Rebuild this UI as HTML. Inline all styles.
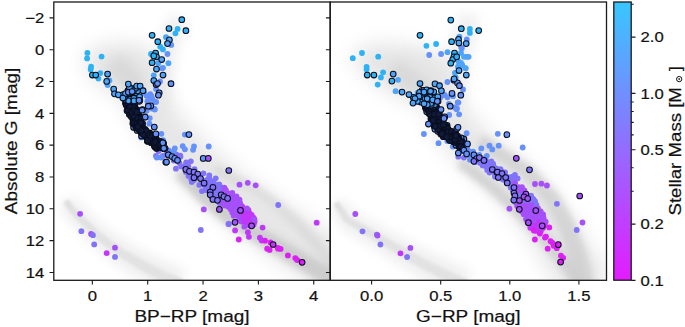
<!DOCTYPE html>
<html><head><meta charset="utf-8"><style>
html,body{margin:0;padding:0;background:#fff;width:685px;height:327px;overflow:hidden}
svg{display:block;font-family:"Liberation Sans",sans-serif}
</style></head><body>
<svg width="685" height="327" viewBox="0 0 685 327">
<defs><linearGradient id="cb" x1="0" y1="0" x2="0" y2="1"><stop offset="0.00" stop-color="rgb(56,199,255)"/><stop offset="0.10" stop-color="rgb(73,182,255)"/><stop offset="0.20" stop-color="rgb(90,165,255)"/><stop offset="0.30" stop-color="rgb(107,148,255)"/><stop offset="0.40" stop-color="rgb(124,131,255)"/><stop offset="0.50" stop-color="rgb(142,113,255)"/><stop offset="0.60" stop-color="rgb(159,96,255)"/><stop offset="0.70" stop-color="rgb(176,79,255)"/><stop offset="0.80" stop-color="rgb(193,62,255)"/><stop offset="0.90" stop-color="rgb(210,45,255)"/><stop offset="1.00" stop-color="rgb(227,28,255)"/></linearGradient></defs>
<clipPath id="cl"><rect x="53.8" y="2.0" width="276.4" height="278.3"/></clipPath><clipPath id="cr"><rect x="330.2" y="2.0" width="276.3" height="278.3"/></clipPath><filter id="bl3" x="-20%" y="-20%" width="140%" height="140%"><feGaussianBlur stdDeviation="3"/></filter><filter id="bl6" x="-30%" y="-30%" width="160%" height="160%"><feGaussianBlur stdDeviation="6"/></filter><filter id="bl10" x="-30%" y="-30%" width="160%" height="160%"><feGaussianBlur stdDeviation="10"/></filter><filter id="bl2" x="-20%" y="-20%" width="140%" height="140%"><feGaussianBlur stdDeviation="1.8"/></filter><g clip-path="url(#cl)"><path d="M124.2,110.3 L148.8,143.6 L176.4,175.8 L218.9,216.4 L262.5,250.7 L306.0,280.7 L331.6,296.0 L358.4,248.0 L334.0,235.3 L291.5,209.3 L249.1,179.6 L207.6,144.2 L181.2,116.4 L155.8,85.7Z" fill="#e2e2e2" opacity="0.85" filter="url(#bl10)"/><path d="M84,56 L104,44 L140,44 L165,64 L168,105 L150,115 L125,102 L100,85 L86,70Z" fill="#dedede" opacity="0.8" filter="url(#bl10)"/><path d="M103.5,70.5 L120.3,85.7 L134.9,99.1 L149.1,84.9 L135.7,70.3 L120.5,53.5Z" fill="#d4d4d4" opacity="0.7" filter="url(#bl6)"/><path d="M161.6,114.9 L168.9,82.9 L178.0,48.5 L189.1,22.1 L170.9,13.9 L158.0,41.5 L147.1,77.1 L138.4,109.1Z" fill="#e8e8e8" opacity="0.7" filter="url(#bl6)"/><path d="M212.5,172.3 L232.1,183.7 L253.0,194.3 L273.6,209.0 L294.0,227.8 L314.9,250.9 L330.2,271.6 L339.8,264.4 L323.9,243.5 L302.0,219.8 L280.4,200.4 L258.4,185.3 L236.9,174.7 L217.5,163.7Z" fill="#d2d2d2" opacity="0.55" filter="url(#bl3)"/><path d="M175.1,176.9 L200.0,202.4 L225.5,224.2 L250.9,239.9 L279.3,257.2 L312.7,277.6 L335.8,290.0 L344.2,274.0 L321.3,262.4 L287.9,242.8 L259.1,226.1 L234.5,211.8 L210.0,191.6 L184.9,167.1Z" fill="#c6c6c6" opacity="0.8" filter="url(#bl3)"/><path d="M63.5,202.7 L67.5,208.9 L73.6,216.3 L83.5,226.5 L94.0,237.3 L106.6,247.3 L119.6,257.1 L132.7,265.0 L145.1,272.7 L162.2,281.6 L177.7,289.0 L182.3,279.0 L166.6,272.2 L149.7,264.1 L137.3,257.0 L124.4,249.9 L111.4,240.7 L99.0,231.5 L88.5,221.5 L78.4,211.7 L72.5,205.1 L68.5,199.3Z" fill="#cbcbcb" opacity="0.8" filter="url(#bl2)"/><path d="M58.5,206.0 L62.6,212.7 L68.9,220.6 L78.7,231.3 L89.3,242.6 L102.1,253.3 L115.3,263.7 L128.5,272.1 L141.0,280.3 L158.2,289.8 L173.8,297.7 L186.2,270.3 L170.6,264.0 L153.8,256.5 L141.5,249.9 L128.7,243.3 L115.9,234.7 L103.7,226.2 L93.3,216.7 L83.1,207.4 L77.4,201.3 L73.5,196.0Z" fill="#e8e8e8" opacity="0.7" filter="url(#bl6)"/></g><g clip-path="url(#cr)"><path d="M424.8,123.0 L455.2,159.8 L485.3,186.1 L512.7,214.7 L535.3,248.0 L554.4,281.1 L569.3,304.1 L610.7,275.9 L595.6,254.9 L574.7,222.0 L547.3,185.3 L514.7,153.9 L484.8,130.2 L455.2,97.0Z" fill="#e2e2e2" opacity="0.85" filter="url(#bl10)"/><path d="M352,52 L377,44 L420,46 L455,62 L460,104 L440,115 L410,102 L380,86 L357,68Z" fill="#dedede" opacity="0.8" filter="url(#bl10)"/><path d="M385.7,77.0 L406.6,90.4 L429.4,102.7 L438.6,87.3 L417.4,73.6 L398.3,59.0Z" fill="#d4d4d4" opacity="0.7" filter="url(#bl6)"/><path d="M456.5,118.3 L466.0,82.7 L472.3,47.4 L479.7,17.6 L460.3,12.4 L451.7,42.6 L444.0,77.3 L433.5,111.7Z" fill="#e8e8e8" opacity="0.7" filter="url(#bl6)"/><path d="M476.5,144.9 L490.0,154.8 L523.3,177.5 L546.5,204.7 L560.0,231.6 L569.0,258.7 L575.3,287.3 L594.7,282.7 L587.0,253.3 L576.0,224.4 L559.5,195.3 L532.7,166.5 L497.0,144.2 L483.5,135.1Z" fill="#cdcdcd" opacity="0.75" filter="url(#bl3)"/><path d="M456.7,166.4 L486.4,189.4 L505.9,207.2 L539.4,242.1 L562.9,270.9 L574.6,288.6 L585.4,281.4 L573.1,263.1 L548.6,233.9 L514.1,198.8 L493.6,180.6 L463.3,157.6Z" fill="#cccccc" opacity="0.8" filter="url(#bl3)"/><path d="M333.5,204.7 L344.8,222.1 L370.6,237.7 L395.8,253.0 L421.1,268.3 L446.7,281.6 L462.5,289.9 L467.5,280.1 L451.3,272.2 L425.7,259.9 L400.2,245.6 L374.4,231.1 L349.2,217.1 L338.5,201.3Z" fill="#cbcbcb" opacity="0.8" filter="url(#bl2)"/><path d="M328.5,208.0 L340.6,227.0 L367.0,243.8 L391.9,259.7 L417.1,275.7 L442.6,289.7 L458.2,298.4 L471.8,271.6 L455.4,264.1 L429.7,252.5 L404.1,238.9 L378.0,225.0 L353.4,212.2 L343.5,198.0Z" fill="#e8e8e8" opacity="0.7" filter="url(#bl6)"/></g><g clip-path="url(#cl)"><circle cx="141.8" cy="89.8" r="2.9" fill="#6491fa"/><circle cx="143.9" cy="92.9" r="2.9" fill="#6491fa"/><circle cx="150.2" cy="94.1" r="2.9" fill="#6491fa"/><circle cx="147.4" cy="101.2" r="2.9" fill="#6491fa"/><circle cx="147.9" cy="103.0" r="2.9" fill="#6491fa"/><circle cx="146.6" cy="110.8" r="2.9" fill="#6491fa"/><circle cx="151.9" cy="108.6" r="2.9" fill="#6491fa"/><circle cx="149.8" cy="118.1" r="2.9" fill="#6491fa"/><circle cx="158.6" cy="151.1" r="2.9" fill="#8073fa"/><circle cx="166.6" cy="151.9" r="2.9" fill="#8073fa"/><circle cx="156.0" cy="155.9" r="2.9" fill="#8073fa"/><circle cx="162.9" cy="156.0" r="2.9" fill="#8073fa"/><circle cx="167.8" cy="155.6" r="2.9" fill="#8073fa"/><circle cx="176.6" cy="154.6" r="2.9" fill="#8073fa"/><circle cx="180.4" cy="156.7" r="2.9" fill="#8073fa"/><circle cx="165.1" cy="162.1" r="2.9" fill="#8073fa"/><circle cx="173.7" cy="160.5" r="2.9" fill="#8073fa"/><circle cx="177.2" cy="160.9" r="2.9" fill="#8073fa"/><circle cx="186.2" cy="162.3" r="2.9" fill="#8073fa"/><circle cx="190.8" cy="161.3" r="2.9" fill="#8073fa"/><circle cx="175.9" cy="168.7" r="2.9" fill="#8073fa"/><circle cx="181.3" cy="166.4" r="2.9" fill="#8073fa"/><circle cx="188.3" cy="166.2" r="2.9" fill="#8073fa"/><circle cx="194.6" cy="169.2" r="2.9" fill="#8073fa"/><circle cx="185.9" cy="171.9" r="2.9" fill="#8073fa"/><circle cx="190.1" cy="173.1" r="2.9" fill="#8073fa"/><circle cx="197.3" cy="174.9" r="2.9" fill="#8073fa"/><circle cx="203.4" cy="173.3" r="2.9" fill="#8073fa"/><circle cx="194.0" cy="180.1" r="2.9" fill="#8073fa"/><circle cx="200.2" cy="177.2" r="2.9" fill="#8073fa"/><circle cx="209.5" cy="179.0" r="2.9" fill="#8073fa"/><circle cx="199.3" cy="184.9" r="2.9" fill="#8073fa"/><circle cx="205.9" cy="184.5" r="2.9" fill="#8073fa"/><circle cx="211.8" cy="185.1" r="2.9" fill="#8073fa"/><circle cx="216.9" cy="185.9" r="2.9" fill="#8073fa"/><circle cx="207.0" cy="188.2" r="2.9" fill="#8073fa"/><circle cx="216.0" cy="188.3" r="2.9" fill="#8073fa"/><circle cx="208.3" cy="178.8" r="2.9" fill="#8073fa"/><circle cx="206.3" cy="180.5" r="2.9" fill="#8073fa"/><circle cx="210.8" cy="182.0" r="2.9" fill="#8073fa"/><circle cx="213.1" cy="181.7" r="2.9" fill="#8073fa"/><circle cx="204.5" cy="185.1" r="2.9" fill="#8073fa"/><circle cx="209.0" cy="184.2" r="2.9" fill="#8073fa"/><circle cx="211.9" cy="184.4" r="2.9" fill="#8073fa"/><circle cx="215.8" cy="184.5" r="2.9" fill="#8073fa"/><circle cx="219.3" cy="184.5" r="2.9" fill="#8073fa"/><circle cx="205.8" cy="186.8" r="2.9" fill="#8073fa"/><circle cx="210.5" cy="188.2" r="2.9" fill="#8073fa"/><circle cx="213.4" cy="187.4" r="2.9" fill="#8073fa"/><circle cx="217.5" cy="187.2" r="2.9" fill="#8073fa"/><circle cx="220.8" cy="187.2" r="2.9" fill="#8073fa"/><circle cx="224.4" cy="187.6" r="2.9" fill="#a550fa"/><circle cx="205.4" cy="190.1" r="2.9" fill="#8073fa"/><circle cx="208.1" cy="190.8" r="2.9" fill="#8073fa"/><circle cx="212.6" cy="190.5" r="2.9" fill="#8073fa"/><circle cx="215.2" cy="190.0" r="2.9" fill="#8073fa"/><circle cx="219.2" cy="190.1" r="2.9" fill="#8073fa"/><circle cx="223.3" cy="191.1" r="2.9" fill="#a550fa"/><circle cx="225.9" cy="190.2" r="2.9" fill="#a550fa"/><circle cx="210.9" cy="193.3" r="2.9" fill="#8073fa"/><circle cx="214.2" cy="194.2" r="2.9" fill="#8073fa"/><circle cx="217.7" cy="193.7" r="2.9" fill="#8073fa"/><circle cx="220.7" cy="193.5" r="2.9" fill="#8073fa"/><circle cx="224.2" cy="193.0" r="2.9" fill="#a550fa"/><circle cx="228.3" cy="193.4" r="2.9" fill="#a550fa"/><circle cx="232.3" cy="193.0" r="2.9" fill="#a550fa"/><circle cx="212.0" cy="197.3" r="2.9" fill="#8073fa"/><circle cx="215.4" cy="196.3" r="2.9" fill="#8073fa"/><circle cx="219.3" cy="197.3" r="2.9" fill="#8073fa"/><circle cx="222.3" cy="197.3" r="2.9" fill="#a550fa"/><circle cx="227.1" cy="197.3" r="2.9" fill="#a550fa"/><circle cx="230.5" cy="196.0" r="2.9" fill="#a550fa"/><circle cx="233.8" cy="197.4" r="2.9" fill="#a550fa"/><circle cx="236.5" cy="196.5" r="2.9" fill="#a550fa"/><circle cx="217.5" cy="199.7" r="2.9" fill="#8073fa"/><circle cx="220.5" cy="199.7" r="2.9" fill="#8073fa"/><circle cx="224.0" cy="200.0" r="2.9" fill="#a550fa"/><circle cx="228.5" cy="199.7" r="2.9" fill="#a550fa"/><circle cx="231.1" cy="199.4" r="2.9" fill="#a550fa"/><circle cx="235.2" cy="200.1" r="2.9" fill="#a550fa"/><circle cx="239.5" cy="199.7" r="2.9" fill="#a550fa"/><circle cx="219.8" cy="203.5" r="2.9" fill="#8073fa"/><circle cx="222.4" cy="203.0" r="2.9" fill="#a550fa"/><circle cx="225.8" cy="203.6" r="2.9" fill="#a550fa"/><circle cx="230.3" cy="203.7" r="2.9" fill="#a550fa"/><circle cx="234.1" cy="203.3" r="2.9" fill="#a550fa"/><circle cx="237.6" cy="203.2" r="2.9" fill="#a550fa"/><circle cx="240.2" cy="203.2" r="2.9" fill="#a550fa"/><circle cx="224.9" cy="205.5" r="2.9" fill="#a550fa"/><circle cx="228.6" cy="206.9" r="2.9" fill="#a550fa"/><circle cx="231.1" cy="205.9" r="2.9" fill="#a550fa"/><circle cx="235.5" cy="206.7" r="2.9" fill="#a550fa"/><circle cx="238.6" cy="205.7" r="2.9" fill="#a550fa"/><circle cx="242.2" cy="206.4" r="2.9" fill="#c037fa"/><circle cx="230.7" cy="209.3" r="2.9" fill="#a550fa"/><circle cx="233.5" cy="209.6" r="2.9" fill="#a550fa"/><circle cx="236.7" cy="208.9" r="2.9" fill="#a550fa"/><circle cx="240.3" cy="209.4" r="2.9" fill="#a550fa"/><circle cx="244.1" cy="208.9" r="2.9" fill="#c037fa"/><circle cx="248.3" cy="210.0" r="2.9" fill="#c037fa"/><circle cx="232.3" cy="212.5" r="2.9" fill="#a550fa"/><circle cx="235.4" cy="212.8" r="2.9" fill="#a550fa"/><circle cx="239.6" cy="212.3" r="2.9" fill="#a550fa"/><circle cx="243.0" cy="213.1" r="2.9" fill="#c037fa"/><circle cx="246.1" cy="212.0" r="2.9" fill="#c037fa"/><circle cx="249.4" cy="212.8" r="2.9" fill="#c037fa"/><circle cx="233.7" cy="215.8" r="2.9" fill="#a550fa"/><circle cx="236.4" cy="215.3" r="2.9" fill="#a550fa"/><circle cx="240.7" cy="215.5" r="2.9" fill="#a550fa"/><circle cx="243.9" cy="215.7" r="2.9" fill="#c037fa"/><circle cx="248.7" cy="215.4" r="2.9" fill="#c037fa"/><circle cx="251.7" cy="214.9" r="2.9" fill="#c037fa"/><circle cx="239.3" cy="218.9" r="2.9" fill="#a550fa"/><circle cx="242.7" cy="218.1" r="2.9" fill="#c037fa"/><circle cx="246.4" cy="218.9" r="2.9" fill="#c037fa"/><circle cx="249.3" cy="219.3" r="2.9" fill="#c037fa"/><circle cx="253.6" cy="218.0" r="2.9" fill="#c037fa"/><circle cx="241.2" cy="221.5" r="2.9" fill="#a550fa"/><circle cx="244.1" cy="221.6" r="2.9" fill="#c037fa"/><circle cx="248.1" cy="222.2" r="2.9" fill="#c037fa"/><circle cx="251.4" cy="222.3" r="2.9" fill="#c037fa"/><circle cx="254.6" cy="221.4" r="2.9" fill="#c037fa"/><circle cx="246.3" cy="225.0" r="2.9" fill="#c037fa"/><circle cx="250.0" cy="225.6" r="2.9" fill="#c037fa"/><circle cx="253.7" cy="224.6" r="2.9" fill="#c037fa"/><circle cx="87.4" cy="52.9" r="2.9" fill="#2db2f5"/><circle cx="87.1" cy="58.4" r="2.9" fill="#2db2f5"/><circle cx="101.6" cy="56.6" r="2.9" fill="#2db2f5"/><circle cx="91.1" cy="66.7" r="2.9" fill="#2db2f5"/><circle cx="90.7" cy="69.4" r="2.9" fill="#2db2f5"/><circle cx="100.3" cy="73.1" r="2.9" fill="#2db2f5"/><circle cx="98.4" cy="78.6" r="2.9" fill="#2db2f5"/><circle cx="109.4" cy="80.5" r="2.9" fill="#4ba5fa"/><circle cx="107.6" cy="85.0" r="2.9" fill="#4ba5fa"/><circle cx="177.6" cy="28.9" r="2.9" fill="#2db2f5"/><circle cx="175.4" cy="33.3" r="2.9" fill="#2db2f5"/><circle cx="166.0" cy="37.2" r="2.9" fill="#4ba5fa"/><circle cx="171.2" cy="44.9" r="2.9" fill="#6491fa"/><circle cx="160.2" cy="46.7" r="2.9" fill="#2db2f5"/><circle cx="162.9" cy="49.4" r="2.9" fill="#2db2f5"/><circle cx="167.5" cy="54.0" r="2.9" fill="#6491fa"/><circle cx="151.0" cy="54.0" r="2.9" fill="#2db2f5"/><circle cx="158.3" cy="63.2" r="2.9" fill="#4ba5fa"/><circle cx="168.4" cy="63.2" r="2.9" fill="#4ba5fa"/><circle cx="163.0" cy="67.8" r="2.9" fill="#4ba5fa"/><circle cx="162.1" cy="68.3" r="2.9" fill="#6491fa"/><circle cx="153.8" cy="75.3" r="2.9" fill="#4ba5fa"/><circle cx="160.0" cy="81.4" r="2.9" fill="#6491fa"/><circle cx="156.1" cy="89.0" r="2.9" fill="#6491fa"/><circle cx="151.5" cy="96.0" r="2.9" fill="#6491fa"/><circle cx="156.1" cy="102.0" r="2.9" fill="#6491fa"/><circle cx="152.3" cy="99.0" r="2.9" fill="#6491fa"/><circle cx="146.5" cy="95.8" r="2.9" fill="#6491fa"/><circle cx="150.0" cy="96.7" r="2.9" fill="#6491fa"/><circle cx="154.8" cy="109.5" r="2.9" fill="#6491fa"/><circle cx="154.3" cy="101.8" r="2.9" fill="#6491fa"/><circle cx="154.3" cy="108.7" r="2.9" fill="#6491fa"/><circle cx="161.4" cy="133.8" r="2.9" fill="#6491fa"/><circle cx="163.2" cy="140.2" r="2.9" fill="#6491fa"/><circle cx="141.2" cy="137.4" r="2.9" fill="#6491fa"/><circle cx="149.4" cy="123.7" r="2.9" fill="#6491fa"/><circle cx="156.8" cy="157.6" r="2.9" fill="#6491fa"/><circle cx="168.7" cy="150.3" r="2.9" fill="#6491fa"/><circle cx="184.9" cy="134.6" r="2.9" fill="#6491fa"/><circle cx="182.7" cy="146.1" r="2.9" fill="#6491fa"/><circle cx="184.9" cy="149.3" r="2.9" fill="#6491fa"/><circle cx="194.0" cy="146.5" r="2.9" fill="#6491fa"/><circle cx="193.1" cy="149.8" r="2.9" fill="#6491fa"/><circle cx="208.7" cy="146.5" r="2.9" fill="#6491fa"/><circle cx="174.8" cy="148.3" r="2.9" fill="#6491fa"/><circle cx="173.9" cy="151.1" r="2.9" fill="#6491fa"/><circle cx="161.0" cy="157.5" r="2.9" fill="#6491fa"/><circle cx="180.3" cy="155.7" r="2.9" fill="#8073fa"/><circle cx="179.4" cy="163.0" r="2.9" fill="#8073fa"/><circle cx="184.9" cy="165.8" r="2.9" fill="#8073fa"/><circle cx="188.5" cy="175.9" r="2.9" fill="#8073fa"/><circle cx="191.3" cy="179.5" r="2.9" fill="#8073fa"/><circle cx="208.7" cy="188.7" r="2.9" fill="#8073fa"/><circle cx="209.3" cy="175.5" r="2.9" fill="#8073fa"/><circle cx="215.7" cy="178.3" r="2.9" fill="#8073fa"/><circle cx="239.5" cy="184.7" r="2.9" fill="#a550fa"/><circle cx="247.8" cy="182.8" r="2.9" fill="#a550fa"/><circle cx="191.8" cy="181.9" r="2.9" fill="#8073fa"/><circle cx="201.9" cy="191.1" r="2.9" fill="#8073fa"/><circle cx="203.8" cy="209.4" r="2.9" fill="#a550fa"/><circle cx="239.5" cy="204.0" r="2.9" fill="#a550fa"/><circle cx="246.9" cy="208.5" r="2.9" fill="#a550fa"/><circle cx="228.5" cy="224.1" r="2.9" fill="#a550fa"/><circle cx="200.8" cy="230.0" r="2.9" fill="#8073fa"/><circle cx="278.2" cy="205.0" r="2.9" fill="#8073fa"/><circle cx="262.6" cy="227.6" r="2.9" fill="#c037fa"/><circle cx="235.1" cy="230.4" r="2.9" fill="#c037fa"/><circle cx="238.8" cy="239.5" r="2.9" fill="#dc20f5"/><circle cx="247.9" cy="232.2" r="2.9" fill="#c037fa"/><circle cx="248.9" cy="236.8" r="2.9" fill="#c037fa"/><circle cx="259.9" cy="237.7" r="2.9" fill="#c037fa"/><circle cx="261.7" cy="240.5" r="2.9" fill="#c037fa"/><circle cx="267.2" cy="248.7" r="2.9" fill="#dc20f5"/><circle cx="278.2" cy="248.7" r="2.9" fill="#dc20f5"/><circle cx="228.7" cy="224.0" r="2.9" fill="#8073fa"/><circle cx="244.3" cy="226.7" r="2.9" fill="#a550fa"/><circle cx="254.4" cy="219.4" r="2.9" fill="#a550fa"/><circle cx="316.7" cy="222.7" r="2.9" fill="#c037fa"/><circle cx="265.0" cy="240.7" r="2.9" fill="#dc20f5"/><circle cx="270.5" cy="242.5" r="2.9" fill="#dc20f5"/><circle cx="269.6" cy="249.9" r="2.9" fill="#dc20f5"/><circle cx="277.8" cy="248.0" r="2.9" fill="#dc20f5"/><circle cx="280.6" cy="248.9" r="2.9" fill="#dc20f5"/><circle cx="287.9" cy="255.4" r="2.9" fill="#dc20f5"/><circle cx="295.3" cy="258.1" r="2.9" fill="#dc20f5"/><circle cx="297.1" cy="260.0" r="2.9" fill="#dc20f5"/><circle cx="255.7" cy="185.3" r="2.9" fill="#a550fa"/><circle cx="80.1" cy="213.8" r="2.9" fill="#a550fa"/><circle cx="81.4" cy="231.2" r="2.9" fill="#8073fa"/><circle cx="91.1" cy="233.9" r="2.9" fill="#a550fa"/><circle cx="92.9" cy="235.2" r="2.9" fill="#8073fa"/><circle cx="94.2" cy="244.4" r="2.9" fill="#8073fa"/><circle cx="115.0" cy="247.7" r="2.9" fill="#a550fa"/><circle cx="106.7" cy="253.2" r="2.9" fill="#c037fa"/><circle cx="115.0" cy="256.9" r="2.9" fill="#8073fa"/><circle cx="149.6" cy="132.9" r="2.8" fill="#6491fa" stroke="#0a0f1e" stroke-width="1.15"/><circle cx="154.9" cy="147.0" r="2.8" fill="#6491fa" stroke="#0a0f1e" stroke-width="1.15"/><circle cx="154.6" cy="143.2" r="2.8" fill="#6491fa" stroke="#0a0f1e" stroke-width="1.15"/><circle cx="130.6" cy="104.9" r="2.8" fill="#6491fa" stroke="#0a0f1e" stroke-width="1.15"/><circle cx="144.6" cy="129.8" r="2.8" fill="#6491fa" stroke="#0a0f1e" stroke-width="1.15"/><circle cx="129.2" cy="96.0" r="2.8" fill="#6491fa" stroke="#0a0f1e" stroke-width="1.15"/><circle cx="133.6" cy="127.4" r="2.8" fill="#6491fa" stroke="#0a0f1e" stroke-width="1.15"/><circle cx="136.2" cy="120.6" r="2.8" fill="#6491fa" stroke="#0a0f1e" stroke-width="1.15"/><circle cx="152.6" cy="139.1" r="2.8" fill="#6491fa" stroke="#0a0f1e" stroke-width="1.15"/><circle cx="139.3" cy="126.2" r="2.8" fill="#6491fa" stroke="#0a0f1e" stroke-width="1.15"/><circle cx="161.1" cy="145.3" r="2.8" fill="#6491fa" stroke="#0a0f1e" stroke-width="1.15"/><circle cx="146.7" cy="137.6" r="2.8" fill="#6491fa" stroke="#0a0f1e" stroke-width="1.15"/><circle cx="156.3" cy="140.7" r="2.8" fill="#6491fa" stroke="#0a0f1e" stroke-width="1.15"/><circle cx="128.7" cy="101.4" r="2.8" fill="#6491fa" stroke="#0a0f1e" stroke-width="1.15"/><circle cx="147.3" cy="141.0" r="2.8" fill="#6491fa" stroke="#0a0f1e" stroke-width="1.15"/><circle cx="150.6" cy="137.2" r="2.8" fill="#6491fa" stroke="#0a0f1e" stroke-width="1.15"/><circle cx="136.4" cy="118.8" r="2.8" fill="#6491fa" stroke="#0a0f1e" stroke-width="1.15"/><circle cx="143.0" cy="132.1" r="2.8" fill="#6491fa" stroke="#0a0f1e" stroke-width="1.15"/><circle cx="129.1" cy="105.5" r="2.8" fill="#6491fa" stroke="#0a0f1e" stroke-width="1.15"/><circle cx="148.7" cy="133.6" r="2.8" fill="#6491fa" stroke="#0a0f1e" stroke-width="1.15"/><circle cx="135.9" cy="121.0" r="2.8" fill="#6491fa" stroke="#0a0f1e" stroke-width="1.15"/><circle cx="137.1" cy="130.4" r="2.8" fill="#6491fa" stroke="#0a0f1e" stroke-width="1.15"/><circle cx="165.1" cy="148.3" r="2.8" fill="#6491fa" stroke="#0a0f1e" stroke-width="1.15"/><circle cx="147.9" cy="134.7" r="2.8" fill="#6491fa" stroke="#0a0f1e" stroke-width="1.15"/><circle cx="128.0" cy="100.0" r="2.8" fill="#6491fa" stroke="#0a0f1e" stroke-width="1.15"/><circle cx="139.7" cy="130.7" r="2.8" fill="#6491fa" stroke="#0a0f1e" stroke-width="1.15"/><circle cx="126.9" cy="99.6" r="2.8" fill="#6491fa" stroke="#0a0f1e" stroke-width="1.15"/><circle cx="131.7" cy="91.9" r="2.8" fill="#6491fa" stroke="#0a0f1e" stroke-width="1.15"/><circle cx="134.1" cy="115.6" r="2.8" fill="#6491fa" stroke="#0a0f1e" stroke-width="1.15"/><circle cx="133.7" cy="109.8" r="2.8" fill="#6491fa" stroke="#0a0f1e" stroke-width="1.15"/><circle cx="163.6" cy="143.5" r="2.8" fill="#6491fa" stroke="#0a0f1e" stroke-width="1.15"/><circle cx="155.2" cy="140.9" r="2.8" fill="#6491fa" stroke="#0a0f1e" stroke-width="1.15"/><circle cx="134.2" cy="122.9" r="2.8" fill="#6491fa" stroke="#0a0f1e" stroke-width="1.15"/><circle cx="140.1" cy="125.1" r="2.8" fill="#6491fa" stroke="#0a0f1e" stroke-width="1.15"/><circle cx="129.2" cy="95.8" r="2.8" fill="#6491fa" stroke="#0a0f1e" stroke-width="1.15"/><circle cx="146.5" cy="133.5" r="2.8" fill="#6491fa" stroke="#0a0f1e" stroke-width="1.15"/><circle cx="132.8" cy="123.5" r="2.8" fill="#6491fa" stroke="#0a0f1e" stroke-width="1.15"/><circle cx="130.6" cy="113.1" r="2.8" fill="#6491fa" stroke="#0a0f1e" stroke-width="1.15"/><circle cx="127.8" cy="98.0" r="2.8" fill="#6491fa" stroke="#0a0f1e" stroke-width="1.15"/><circle cx="132.0" cy="100.1" r="2.8" fill="#6491fa" stroke="#0a0f1e" stroke-width="1.15"/><circle cx="135.0" cy="113.6" r="2.8" fill="#6491fa" stroke="#0a0f1e" stroke-width="1.15"/><circle cx="131.7" cy="101.5" r="2.8" fill="#6491fa" stroke="#0a0f1e" stroke-width="1.15"/><circle cx="133.9" cy="109.4" r="2.8" fill="#6491fa" stroke="#0a0f1e" stroke-width="1.15"/><circle cx="131.4" cy="108.6" r="2.8" fill="#6491fa" stroke="#0a0f1e" stroke-width="1.15"/><circle cx="135.7" cy="119.3" r="2.8" fill="#6491fa" stroke="#0a0f1e" stroke-width="1.15"/><circle cx="133.5" cy="97.9" r="2.8" fill="#6491fa" stroke="#0a0f1e" stroke-width="1.15"/><circle cx="131.2" cy="105.8" r="2.8" fill="#6491fa" stroke="#0a0f1e" stroke-width="1.15"/><circle cx="141.4" cy="125.8" r="2.8" fill="#6491fa" stroke="#0a0f1e" stroke-width="1.15"/><circle cx="127.0" cy="110.8" r="2.8" fill="#6491fa" stroke="#0a0f1e" stroke-width="1.15"/><circle cx="139.6" cy="127.9" r="2.8" fill="#6491fa" stroke="#0a0f1e" stroke-width="1.15"/><circle cx="131.3" cy="112.3" r="2.8" fill="#6491fa" stroke="#0a0f1e" stroke-width="1.15"/><circle cx="160.6" cy="144.9" r="2.8" fill="#6491fa" stroke="#0a0f1e" stroke-width="1.15"/><circle cx="128.9" cy="109.1" r="2.8" fill="#6491fa" stroke="#0a0f1e" stroke-width="1.15"/><circle cx="151.8" cy="142.1" r="2.8" fill="#6491fa" stroke="#0a0f1e" stroke-width="1.15"/><circle cx="132.1" cy="114.5" r="2.8" fill="#6491fa" stroke="#0a0f1e" stroke-width="1.15"/><circle cx="136.2" cy="112.3" r="2.8" fill="#6491fa" stroke="#0a0f1e" stroke-width="1.15"/><circle cx="144.2" cy="132.2" r="2.8" fill="#6491fa" stroke="#0a0f1e" stroke-width="1.15"/><circle cx="158.1" cy="142.6" r="2.8" fill="#6491fa" stroke="#0a0f1e" stroke-width="1.15"/><circle cx="145.2" cy="135.4" r="2.8" fill="#6491fa" stroke="#0a0f1e" stroke-width="1.15"/><circle cx="152.9" cy="138.9" r="2.8" fill="#6491fa" stroke="#0a0f1e" stroke-width="1.15"/><circle cx="156.0" cy="143.2" r="2.8" fill="#6491fa" stroke="#0a0f1e" stroke-width="1.15"/><circle cx="125.1" cy="98.9" r="2.8" fill="#6491fa" stroke="#0a0f1e" stroke-width="1.15"/><circle cx="131.3" cy="104.3" r="2.8" fill="#6491fa" stroke="#0a0f1e" stroke-width="1.15"/><circle cx="128.4" cy="103.4" r="2.8" fill="#6491fa" stroke="#0a0f1e" stroke-width="1.15"/><circle cx="130.3" cy="98.5" r="2.8" fill="#6491fa" stroke="#0a0f1e" stroke-width="1.15"/><circle cx="154.9" cy="138.1" r="2.8" fill="#6491fa" stroke="#0a0f1e" stroke-width="1.15"/><circle cx="129.2" cy="96.0" r="2.8" fill="#6491fa" stroke="#0a0f1e" stroke-width="1.15"/><circle cx="125.6" cy="103.1" r="2.8" fill="#6491fa" stroke="#0a0f1e" stroke-width="1.15"/><circle cx="138.1" cy="118.9" r="2.8" fill="#6491fa" stroke="#0a0f1e" stroke-width="1.15"/><circle cx="134.1" cy="109.3" r="2.8" fill="#6491fa" stroke="#0a0f1e" stroke-width="1.15"/><circle cx="154.5" cy="141.8" r="2.8" fill="#6491fa" stroke="#0a0f1e" stroke-width="1.15"/><circle cx="160.0" cy="142.6" r="2.8" fill="#6491fa" stroke="#0a0f1e" stroke-width="1.15"/><circle cx="156.3" cy="146.3" r="2.8" fill="#6491fa" stroke="#0a0f1e" stroke-width="1.15"/><circle cx="132.5" cy="116.5" r="2.8" fill="#6491fa" stroke="#0a0f1e" stroke-width="1.15"/><circle cx="140.9" cy="121.6" r="2.8" fill="#6491fa" stroke="#0a0f1e" stroke-width="1.15"/><circle cx="161.1" cy="146.8" r="2.8" fill="#6491fa" stroke="#0a0f1e" stroke-width="1.15"/><circle cx="141.5" cy="136.0" r="2.8" fill="#6491fa" stroke="#0a0f1e" stroke-width="1.15"/><circle cx="133.1" cy="120.7" r="2.8" fill="#6491fa" stroke="#0a0f1e" stroke-width="1.15"/><circle cx="127.7" cy="98.2" r="2.8" fill="#6491fa" stroke="#0a0f1e" stroke-width="1.15"/><circle cx="129.6" cy="102.3" r="2.8" fill="#6491fa" stroke="#0a0f1e" stroke-width="1.15"/><circle cx="138.4" cy="127.6" r="2.8" fill="#6491fa" stroke="#0a0f1e" stroke-width="1.15"/><circle cx="131.7" cy="92.1" r="2.8" fill="#6491fa" stroke="#0a0f1e" stroke-width="1.15"/><circle cx="149.5" cy="141.3" r="2.8" fill="#6491fa" stroke="#0a0f1e" stroke-width="1.15"/><circle cx="135.9" cy="126.1" r="2.8" fill="#6491fa" stroke="#0a0f1e" stroke-width="1.15"/><circle cx="160.7" cy="145.6" r="2.8" fill="#6491fa" stroke="#0a0f1e" stroke-width="1.15"/><circle cx="140.9" cy="132.3" r="2.8" fill="#6491fa" stroke="#0a0f1e" stroke-width="1.15"/><circle cx="133.0" cy="106.7" r="2.8" fill="#6491fa" stroke="#0a0f1e" stroke-width="1.15"/><circle cx="149.5" cy="136.6" r="2.8" fill="#101a3c" stroke="#0a0f1e" stroke-width="1.15"/><circle cx="141.5" cy="132.8" r="2.8" fill="#101a3c" stroke="#0a0f1e" stroke-width="1.15"/><circle cx="133.0" cy="116.2" r="2.8" fill="#101a3c" stroke="#0a0f1e" stroke-width="1.15"/><circle cx="134.6" cy="104.9" r="2.8" fill="#101a3c" stroke="#0a0f1e" stroke-width="1.15"/><circle cx="133.0" cy="117.8" r="2.8" fill="#101a3c" stroke="#0a0f1e" stroke-width="1.15"/><circle cx="129.4" cy="110.1" r="2.8" fill="#101a3c" stroke="#0a0f1e" stroke-width="1.15"/><circle cx="135.6" cy="125.4" r="2.8" fill="#101a3c" stroke="#0a0f1e" stroke-width="1.15"/><circle cx="160.9" cy="141.5" r="2.8" fill="#101a3c" stroke="#0a0f1e" stroke-width="1.15"/><circle cx="145.5" cy="136.4" r="2.8" fill="#101a3c" stroke="#0a0f1e" stroke-width="1.15"/><circle cx="133.9" cy="123.6" r="2.8" fill="#101a3c" stroke="#0a0f1e" stroke-width="1.15"/><circle cx="156.0" cy="138.4" r="2.8" fill="#101a3c" stroke="#0a0f1e" stroke-width="1.15"/><circle cx="131.9" cy="108.7" r="2.8" fill="#101a3c" stroke="#0a0f1e" stroke-width="1.15"/><circle cx="135.9" cy="118.8" r="2.8" fill="#101a3c" stroke="#0a0f1e" stroke-width="1.15"/><circle cx="148.1" cy="138.4" r="2.8" fill="#101a3c" stroke="#0a0f1e" stroke-width="1.15"/><circle cx="139.7" cy="124.8" r="2.8" fill="#101a3c" stroke="#0a0f1e" stroke-width="1.15"/><circle cx="156.6" cy="148.4" r="2.8" fill="#101a3c" stroke="#0a0f1e" stroke-width="1.15"/><circle cx="158.4" cy="146.8" r="2.8" fill="#101a3c" stroke="#0a0f1e" stroke-width="1.15"/><circle cx="136.5" cy="121.1" r="2.8" fill="#101a3c" stroke="#0a0f1e" stroke-width="1.15"/><circle cx="131.4" cy="110.2" r="2.8" fill="#101a3c" stroke="#0a0f1e" stroke-width="1.15"/><circle cx="150.5" cy="138.5" r="2.8" fill="#101a3c" stroke="#0a0f1e" stroke-width="1.15"/><circle cx="126.6" cy="101.9" r="2.8" fill="#101a3c" stroke="#0a0f1e" stroke-width="1.15"/><circle cx="127.4" cy="94.1" r="2.8" fill="#101a3c" stroke="#0a0f1e" stroke-width="1.15"/><circle cx="137.5" cy="126.7" r="2.8" fill="#101a3c" stroke="#0a0f1e" stroke-width="1.15"/><circle cx="127.6" cy="107.3" r="2.8" fill="#101a3c" stroke="#0a0f1e" stroke-width="1.15"/><circle cx="129.4" cy="101.7" r="2.8" fill="#101a3c" stroke="#0a0f1e" stroke-width="1.15"/><circle cx="133.8" cy="120.2" r="2.8" fill="#101a3c" stroke="#0a0f1e" stroke-width="1.15"/><circle cx="160.7" cy="147.6" r="2.8" fill="#101a3c" stroke="#0a0f1e" stroke-width="1.15"/><circle cx="136.4" cy="110.5" r="2.8" fill="#101a3c" stroke="#0a0f1e" stroke-width="1.15"/><circle cx="136.8" cy="123.8" r="2.8" fill="#101a3c" stroke="#0a0f1e" stroke-width="1.15"/><circle cx="155.7" cy="143.5" r="2.8" fill="#101a3c" stroke="#0a0f1e" stroke-width="1.15"/><circle cx="129.5" cy="107.4" r="2.8" fill="#101a3c" stroke="#0a0f1e" stroke-width="1.15"/><circle cx="140.1" cy="128.1" r="2.8" fill="#101a3c" stroke="#0a0f1e" stroke-width="1.15"/><circle cx="133.4" cy="121.6" r="2.8" fill="#101a3c" stroke="#0a0f1e" stroke-width="1.15"/><circle cx="141.3" cy="124.1" r="2.8" fill="#101a3c" stroke="#0a0f1e" stroke-width="1.15"/><circle cx="160.1" cy="145.0" r="2.8" fill="#101a3c" stroke="#0a0f1e" stroke-width="1.15"/><circle cx="124.9" cy="96.5" r="2.8" fill="#101a3c" stroke="#0a0f1e" stroke-width="1.15"/><circle cx="152.1" cy="141.3" r="2.8" fill="#101a3c" stroke="#0a0f1e" stroke-width="1.15"/><circle cx="159.1" cy="143.3" r="2.8" fill="#101a3c" stroke="#0a0f1e" stroke-width="1.15"/><circle cx="131.3" cy="105.7" r="2.8" fill="#101a3c" stroke="#0a0f1e" stroke-width="1.15"/><circle cx="138.2" cy="120.9" r="2.8" fill="#101a3c" stroke="#0a0f1e" stroke-width="1.15"/><circle cx="154.2" cy="141.0" r="2.8" fill="#101a3c" stroke="#0a0f1e" stroke-width="1.15"/><circle cx="131.6" cy="110.5" r="2.8" fill="#101a3c" stroke="#0a0f1e" stroke-width="1.15"/><circle cx="128.9" cy="110.3" r="2.8" fill="#101a3c" stroke="#0a0f1e" stroke-width="1.15"/><circle cx="135.4" cy="115.7" r="2.8" fill="#101a3c" stroke="#0a0f1e" stroke-width="1.15"/><circle cx="143.5" cy="129.3" r="2.8" fill="#101a3c" stroke="#0a0f1e" stroke-width="1.15"/><circle cx="147.3" cy="134.7" r="2.8" fill="#101a3c" stroke="#0a0f1e" stroke-width="1.15"/><circle cx="144.4" cy="134.4" r="2.8" fill="#101a3c" stroke="#0a0f1e" stroke-width="1.15"/><circle cx="153.0" cy="142.4" r="2.8" fill="#101a3c" stroke="#0a0f1e" stroke-width="1.15"/><circle cx="133.2" cy="103.2" r="2.8" fill="#101a3c" stroke="#0a0f1e" stroke-width="1.15"/><circle cx="145.0" cy="134.0" r="2.8" fill="#101a3c" stroke="#0a0f1e" stroke-width="1.15"/><circle cx="152.7" cy="137.5" r="2.8" fill="#101a3c" stroke="#0a0f1e" stroke-width="1.15"/><circle cx="132.8" cy="95.1" r="2.8" fill="#101a3c" stroke="#0a0f1e" stroke-width="1.15"/><circle cx="132.9" cy="93.1" r="2.8" fill="#101a3c" stroke="#0a0f1e" stroke-width="1.15"/><circle cx="130.6" cy="105.3" r="2.8" fill="#101a3c" stroke="#0a0f1e" stroke-width="1.15"/><circle cx="156.0" cy="140.2" r="2.8" fill="#101a3c" stroke="#0a0f1e" stroke-width="1.15"/><circle cx="137.0" cy="113.6" r="2.8" fill="#101a3c" stroke="#0a0f1e" stroke-width="1.15"/><circle cx="150.0" cy="133.8" r="2.8" fill="#101a3c" stroke="#0a0f1e" stroke-width="1.15"/><circle cx="138.8" cy="114.9" r="2.8" fill="#101a3c" stroke="#0a0f1e" stroke-width="1.15"/><circle cx="140.3" cy="130.0" r="2.8" fill="#101a3c" stroke="#0a0f1e" stroke-width="1.15"/><circle cx="158.5" cy="140.8" r="2.8" fill="#101a3c" stroke="#0a0f1e" stroke-width="1.15"/><circle cx="125.8" cy="97.0" r="2.8" fill="#101a3c" stroke="#0a0f1e" stroke-width="1.15"/><circle cx="135.6" cy="116.9" r="2.8" fill="#101a3c" stroke="#0a0f1e" stroke-width="1.15"/><circle cx="154.3" cy="145.8" r="2.8" fill="#101a3c" stroke="#0a0f1e" stroke-width="1.15"/><circle cx="129.6" cy="113.4" r="2.8" fill="#101a3c" stroke="#0a0f1e" stroke-width="1.15"/><circle cx="136.9" cy="125.2" r="2.8" fill="#101a3c" stroke="#0a0f1e" stroke-width="1.15"/><circle cx="134.9" cy="111.1" r="2.8" fill="#101a3c" stroke="#0a0f1e" stroke-width="1.15"/><circle cx="156.8" cy="145.0" r="2.8" fill="#101a3c" stroke="#0a0f1e" stroke-width="1.15"/><circle cx="130.5" cy="101.3" r="2.8" fill="#101a3c" stroke="#0a0f1e" stroke-width="1.15"/><circle cx="126.9" cy="95.8" r="2.8" fill="#101a3c" stroke="#0a0f1e" stroke-width="1.15"/><circle cx="131.5" cy="109.9" r="2.8" fill="#101a3c" stroke="#0a0f1e" stroke-width="1.15"/><circle cx="140.2" cy="129.0" r="2.8" fill="#101a3c" stroke="#0a0f1e" stroke-width="1.15"/><circle cx="137.1" cy="109.9" r="2.8" fill="#101a3c" stroke="#0a0f1e" stroke-width="1.15"/><circle cx="128.2" cy="100.2" r="2.8" fill="#101a3c" stroke="#0a0f1e" stroke-width="1.15"/><circle cx="134.9" cy="106.5" r="2.8" fill="#101a3c" stroke="#0a0f1e" stroke-width="1.15"/><circle cx="139.7" cy="130.0" r="2.8" fill="#101a3c" stroke="#0a0f1e" stroke-width="1.15"/><circle cx="129.3" cy="114.5" r="2.8" fill="#101a3c" stroke="#0a0f1e" stroke-width="1.15"/><circle cx="134.8" cy="103.6" r="2.8" fill="#101a3c" stroke="#0a0f1e" stroke-width="1.15"/><circle cx="138.7" cy="118.3" r="2.8" fill="#101a3c" stroke="#0a0f1e" stroke-width="1.15"/><circle cx="156.7" cy="142.2" r="2.8" fill="#101a3c" stroke="#0a0f1e" stroke-width="1.15"/><circle cx="127.5" cy="104.8" r="2.8" fill="#101a3c" stroke="#0a0f1e" stroke-width="1.15"/><circle cx="127.9" cy="109.9" r="2.8" fill="#101a3c" stroke="#0a0f1e" stroke-width="1.15"/><circle cx="125.4" cy="98.3" r="2.8" fill="#101a3c" stroke="#0a0f1e" stroke-width="1.15"/><circle cx="133.7" cy="122.3" r="2.8" fill="#101a3c" stroke="#0a0f1e" stroke-width="1.15"/><circle cx="139.2" cy="124.2" r="2.8" fill="#101a3c" stroke="#0a0f1e" stroke-width="1.15"/><circle cx="128.6" cy="99.4" r="2.8" fill="#101a3c" stroke="#0a0f1e" stroke-width="1.15"/><circle cx="155.8" cy="144.7" r="2.8" fill="#101a3c" stroke="#0a0f1e" stroke-width="1.15"/><circle cx="151.1" cy="142.7" r="2.8" fill="#101a3c" stroke="#0a0f1e" stroke-width="1.15"/><circle cx="131.3" cy="116.8" r="2.8" fill="#101a3c" stroke="#0a0f1e" stroke-width="1.15"/><circle cx="157.3" cy="146.0" r="2.8" fill="#101a3c" stroke="#0a0f1e" stroke-width="1.15"/><circle cx="155.5" cy="145.5" r="2.8" fill="#101a3c" stroke="#0a0f1e" stroke-width="1.15"/><circle cx="140.4" cy="126.6" r="2.8" fill="#101a3c" stroke="#0a0f1e" stroke-width="1.15"/><circle cx="126.1" cy="104.9" r="2.8" fill="#101a3c" stroke="#0a0f1e" stroke-width="1.15"/><circle cx="129.1" cy="103.2" r="2.8" fill="#101a3c" stroke="#0a0f1e" stroke-width="1.15"/><circle cx="142.4" cy="126.1" r="2.8" fill="#101a3c" stroke="#0a0f1e" stroke-width="1.15"/><circle cx="147.6" cy="141.3" r="2.8" fill="#101a3c" stroke="#0a0f1e" stroke-width="1.15"/><circle cx="138.3" cy="112.9" r="2.8" fill="#101a3c" stroke="#0a0f1e" stroke-width="1.15"/><circle cx="149.2" cy="139.8" r="2.8" fill="#101a3c" stroke="#0a0f1e" stroke-width="1.15"/><circle cx="131.1" cy="98.1" r="2.8" fill="#101a3c" stroke="#0a0f1e" stroke-width="1.15"/><circle cx="136.5" cy="121.4" r="2.8" fill="#101a3c" stroke="#0a0f1e" stroke-width="1.15"/><circle cx="149.9" cy="138.8" r="2.8" fill="#101a3c" stroke="#0a0f1e" stroke-width="1.15"/><circle cx="135.8" cy="118.6" r="2.8" fill="#101a3c" stroke="#0a0f1e" stroke-width="1.15"/><circle cx="134.9" cy="103.5" r="2.8" fill="#101a3c" stroke="#0a0f1e" stroke-width="1.15"/><circle cx="132.6" cy="108.9" r="2.8" fill="#101a3c" stroke="#0a0f1e" stroke-width="1.15"/><circle cx="131.9" cy="102.7" r="2.8" fill="#101a3c" stroke="#0a0f1e" stroke-width="1.15"/><circle cx="123.6" cy="97.5" r="2.8" fill="#101a3c" stroke="#0a0f1e" stroke-width="1.15"/><circle cx="147.0" cy="137.3" r="2.8" fill="#101a3c" stroke="#0a0f1e" stroke-width="1.15"/><circle cx="135.9" cy="127.7" r="2.8" fill="#101a3c" stroke="#0a0f1e" stroke-width="1.15"/><circle cx="141.8" cy="132.0" r="2.8" fill="#101a3c" stroke="#0a0f1e" stroke-width="1.15"/><circle cx="141.7" cy="129.6" r="2.8" fill="#101a3c" stroke="#0a0f1e" stroke-width="1.15"/><circle cx="147.4" cy="136.4" r="2.8" fill="#101a3c" stroke="#0a0f1e" stroke-width="1.15"/><circle cx="153.9" cy="142.9" r="2.8" fill="#101a3c" stroke="#0a0f1e" stroke-width="1.15"/><circle cx="132.3" cy="103.9" r="2.8" fill="#101a3c" stroke="#0a0f1e" stroke-width="1.15"/><circle cx="137.0" cy="115.3" r="2.8" fill="#101a3c" stroke="#0a0f1e" stroke-width="1.15"/><circle cx="150.0" cy="135.6" r="2.8" fill="#101a3c" stroke="#0a0f1e" stroke-width="1.15"/><circle cx="131.8" cy="101.9" r="2.8" fill="#101a3c" stroke="#0a0f1e" stroke-width="1.15"/><circle cx="155.7" cy="142.0" r="2.8" fill="#101a3c" stroke="#0a0f1e" stroke-width="1.15"/><circle cx="130.6" cy="94.3" r="2.8" fill="#101a3c" stroke="#0a0f1e" stroke-width="1.15"/><circle cx="133.7" cy="116.0" r="2.8" fill="#101a3c" stroke="#0a0f1e" stroke-width="1.15"/><circle cx="138.0" cy="118.3" r="2.8" fill="#101a3c" stroke="#0a0f1e" stroke-width="1.15"/><circle cx="147.6" cy="140.5" r="2.8" fill="#101a3c" stroke="#0a0f1e" stroke-width="1.15"/><circle cx="159.0" cy="144.5" r="2.8" fill="#101a3c" stroke="#0a0f1e" stroke-width="1.15"/><circle cx="160.8" cy="145.2" r="2.8" fill="#101a3c" stroke="#0a0f1e" stroke-width="1.15"/><circle cx="140.9" cy="118.9" r="2.8" fill="#101a3c" stroke="#0a0f1e" stroke-width="1.15"/><circle cx="131.8" cy="112.3" r="2.8" fill="#101a3c" stroke="#0a0f1e" stroke-width="1.15"/><circle cx="133.0" cy="106.4" r="2.8" fill="#101a3c" stroke="#0a0f1e" stroke-width="1.15"/><circle cx="129.5" cy="105.4" r="2.8" fill="#101a3c" stroke="#0a0f1e" stroke-width="1.15"/><circle cx="129.7" cy="95.6" r="2.8" fill="#101a3c" stroke="#0a0f1e" stroke-width="1.15"/><circle cx="134.5" cy="110.7" r="2.8" fill="#101a3c" stroke="#0a0f1e" stroke-width="1.15"/><circle cx="137.6" cy="128.6" r="2.8" fill="#101a3c" stroke="#0a0f1e" stroke-width="1.15"/><circle cx="136.8" cy="111.9" r="2.8" fill="#101a3c" stroke="#0a0f1e" stroke-width="1.15"/><circle cx="140.0" cy="121.8" r="2.8" fill="#101a3c" stroke="#0a0f1e" stroke-width="1.15"/><circle cx="146.9" cy="132.6" r="2.8" fill="#101a3c" stroke="#0a0f1e" stroke-width="1.15"/><circle cx="147.3" cy="133.1" r="2.8" fill="#101a3c" stroke="#0a0f1e" stroke-width="1.15"/><circle cx="163.8" cy="148.7" r="2.8" fill="#101a3c" stroke="#0a0f1e" stroke-width="1.15"/><circle cx="142.6" cy="123.5" r="2.8" fill="#101a3c" stroke="#0a0f1e" stroke-width="1.15"/><circle cx="125.7" cy="102.9" r="2.8" fill="#101a3c" stroke="#0a0f1e" stroke-width="1.15"/><circle cx="127.8" cy="97.8" r="2.8" fill="#101a3c" stroke="#0a0f1e" stroke-width="1.15"/><circle cx="126.6" cy="100.7" r="2.8" fill="#101a3c" stroke="#0a0f1e" stroke-width="1.15"/><circle cx="138.4" cy="126.7" r="2.8" fill="#101a3c" stroke="#0a0f1e" stroke-width="1.15"/><circle cx="133.4" cy="95.2" r="2.8" fill="#101a3c" stroke="#0a0f1e" stroke-width="1.15"/><circle cx="141.0" cy="122.8" r="2.8" fill="#101a3c" stroke="#0a0f1e" stroke-width="1.15"/><circle cx="163.2" cy="146.3" r="2.8" fill="#101a3c" stroke="#0a0f1e" stroke-width="1.15"/><circle cx="131.3" cy="101.8" r="2.8" fill="#101a3c" stroke="#0a0f1e" stroke-width="1.15"/><circle cx="144.9" cy="129.3" r="2.8" fill="#101a3c" stroke="#0a0f1e" stroke-width="1.15"/><circle cx="146.0" cy="130.6" r="2.8" fill="#101a3c" stroke="#0a0f1e" stroke-width="1.15"/><circle cx="143.2" cy="134.4" r="2.8" fill="#101a3c" stroke="#0a0f1e" stroke-width="1.15"/><circle cx="141.3" cy="130.4" r="2.8" fill="#101a3c" stroke="#0a0f1e" stroke-width="1.15"/><circle cx="137.4" cy="99.7" r="2.85" fill="#4ba5fa" stroke="#0a0f1e" stroke-width="1.05"/><circle cx="130.6" cy="91.7" r="2.85" fill="#4ba5fa" stroke="#0a0f1e" stroke-width="1.05"/><circle cx="130.1" cy="99.2" r="2.85" fill="#4ba5fa" stroke="#0a0f1e" stroke-width="1.05"/><circle cx="126.1" cy="100.1" r="2.85" fill="#4ba5fa" stroke="#0a0f1e" stroke-width="1.05"/><circle cx="135.7" cy="93.2" r="2.85" fill="#4ba5fa" stroke="#0a0f1e" stroke-width="1.05"/><circle cx="124.1" cy="94.7" r="2.85" fill="#4ba5fa" stroke="#0a0f1e" stroke-width="1.05"/><circle cx="137.5" cy="91.0" r="2.85" fill="#4ba5fa" stroke="#0a0f1e" stroke-width="1.05"/><circle cx="133.3" cy="91.4" r="2.85" fill="#4ba5fa" stroke="#0a0f1e" stroke-width="1.05"/><circle cx="139.6" cy="96.8" r="2.85" fill="#4ba5fa" stroke="#0a0f1e" stroke-width="1.05"/><circle cx="128.5" cy="100.8" r="2.85" fill="#4ba5fa" stroke="#0a0f1e" stroke-width="1.05"/><circle cx="133.9" cy="98.2" r="2.85" fill="#4ba5fa" stroke="#0a0f1e" stroke-width="1.05"/><circle cx="132.6" cy="88.5" r="2.85" fill="#4ba5fa" stroke="#0a0f1e" stroke-width="1.05"/><circle cx="124.2" cy="97.8" r="2.85" fill="#4ba5fa" stroke="#0a0f1e" stroke-width="1.05"/><circle cx="127.9" cy="90.7" r="2.85" fill="#4ba5fa" stroke="#0a0f1e" stroke-width="1.05"/><circle cx="135.8" cy="88.2" r="2.85" fill="#4ba5fa" stroke="#0a0f1e" stroke-width="1.05"/><circle cx="128.7" cy="93.1" r="2.85" fill="#4ba5fa" stroke="#0a0f1e" stroke-width="1.05"/><circle cx="122.5" cy="94.9" r="2.85" fill="#4ba5fa" stroke="#0a0f1e" stroke-width="1.05"/><circle cx="134.0" cy="100.9" r="2.85" fill="#4ba5fa" stroke="#0a0f1e" stroke-width="1.05"/><circle cx="129.4" cy="87.5" r="2.85" fill="#4ba5fa" stroke="#0a0f1e" stroke-width="1.05"/><circle cx="125.5" cy="93.6" r="2.85" fill="#4ba5fa" stroke="#0a0f1e" stroke-width="1.05"/><circle cx="92.4" cy="75.0" r="2.85" fill="#2db2f5" stroke="#0a0f1e" stroke-width="1.05"/><circle cx="95.7" cy="75.0" r="2.85" fill="#2db2f5" stroke="#0a0f1e" stroke-width="1.05"/><circle cx="107.6" cy="74.0" r="2.85" fill="#4ba5fa" stroke="#0a0f1e" stroke-width="1.05"/><circle cx="106.7" cy="81.4" r="2.85" fill="#4ba5fa" stroke="#0a0f1e" stroke-width="1.05"/><circle cx="113.7" cy="89.0" r="2.85" fill="#4ba5fa" stroke="#0a0f1e" stroke-width="1.05"/><circle cx="128.3" cy="84.1" r="2.85" fill="#4ba5fa" stroke="#0a0f1e" stroke-width="1.05"/><circle cx="181.8" cy="19.7" r="2.85" fill="#2db2f5" stroke="#0a0f1e" stroke-width="1.05"/><circle cx="169.0" cy="28.5" r="2.85" fill="#2db2f5" stroke="#0a0f1e" stroke-width="1.05"/><circle cx="185.9" cy="30.7" r="2.85" fill="#2db2f5" stroke="#0a0f1e" stroke-width="1.05"/><circle cx="152.1" cy="35.3" r="2.85" fill="#2db2f5" stroke="#0a0f1e" stroke-width="1.05"/><circle cx="169.4" cy="39.9" r="2.85" fill="#4ba5fa" stroke="#0a0f1e" stroke-width="1.05"/><circle cx="167.5" cy="43.6" r="2.85" fill="#4ba5fa" stroke="#0a0f1e" stroke-width="1.05"/><circle cx="157.8" cy="41.7" r="2.85" fill="#2db2f5" stroke="#0a0f1e" stroke-width="1.05"/><circle cx="155.6" cy="53.1" r="2.85" fill="#2db2f5" stroke="#0a0f1e" stroke-width="1.05"/><circle cx="156.5" cy="56.8" r="2.85" fill="#2db2f5" stroke="#0a0f1e" stroke-width="1.05"/><circle cx="153.8" cy="55.9" r="2.85" fill="#2db2f5" stroke="#0a0f1e" stroke-width="1.05"/><circle cx="161.7" cy="59.5" r="2.85" fill="#4ba5fa" stroke="#0a0f1e" stroke-width="1.05"/><circle cx="152.1" cy="62.7" r="2.85" fill="#2db2f5" stroke="#0a0f1e" stroke-width="1.05"/><circle cx="156.5" cy="69.0" r="2.85" fill="#4ba5fa" stroke="#0a0f1e" stroke-width="1.05"/><circle cx="163.0" cy="75.0" r="2.85" fill="#4ba5fa" stroke="#0a0f1e" stroke-width="1.05"/><circle cx="153.8" cy="80.6" r="2.85" fill="#4ba5fa" stroke="#0a0f1e" stroke-width="1.05"/><circle cx="156.1" cy="84.5" r="2.85" fill="#6491fa" stroke="#0a0f1e" stroke-width="1.05"/><circle cx="157.5" cy="83.5" r="2.85" fill="#6491fa" stroke="#0a0f1e" stroke-width="1.05"/><circle cx="171.0" cy="83.7" r="2.85" fill="#6491fa" stroke="#0a0f1e" stroke-width="1.05"/><circle cx="159.2" cy="92.9" r="2.85" fill="#6491fa" stroke="#0a0f1e" stroke-width="1.05"/><circle cx="158.4" cy="95.2" r="2.85" fill="#6491fa" stroke="#0a0f1e" stroke-width="1.05"/><circle cx="150.8" cy="105.9" r="2.85" fill="#6491fa" stroke="#0a0f1e" stroke-width="1.05"/><circle cx="136.7" cy="86.1" r="2.85" fill="#4ba5fa" stroke="#0a0f1e" stroke-width="1.05"/><circle cx="140.1" cy="86.1" r="2.85" fill="#4ba5fa" stroke="#0a0f1e" stroke-width="1.05"/><circle cx="143.1" cy="90.7" r="2.85" fill="#4ba5fa" stroke="#0a0f1e" stroke-width="1.05"/><circle cx="114.5" cy="93.8" r="2.85" fill="#4ba5fa" stroke="#0a0f1e" stroke-width="1.05"/><circle cx="118.3" cy="94.8" r="2.85" fill="#4ba5fa" stroke="#0a0f1e" stroke-width="1.05"/><circle cx="122.9" cy="98.0" r="2.85" fill="#4ba5fa" stroke="#0a0f1e" stroke-width="1.05"/><circle cx="128.3" cy="92.2" r="2.85" fill="#6491fa" stroke="#0a0f1e" stroke-width="1.05"/><circle cx="132.1" cy="91.5" r="2.85" fill="#6491fa" stroke="#0a0f1e" stroke-width="1.05"/><circle cx="139.8" cy="100.6" r="2.85" fill="#6491fa" stroke="#0a0f1e" stroke-width="1.05"/><circle cx="148.3" cy="106.2" r="2.85" fill="#6491fa" stroke="#0a0f1e" stroke-width="1.05"/><circle cx="142.5" cy="109.5" r="2.85" fill="#6491fa" stroke="#0a0f1e" stroke-width="1.05"/><circle cx="139.2" cy="101.3" r="2.85" fill="#6491fa" stroke="#0a0f1e" stroke-width="1.05"/><circle cx="144.7" cy="116.9" r="2.85" fill="#6491fa" stroke="#0a0f1e" stroke-width="1.05"/><circle cx="145.2" cy="117.1" r="2.85" fill="#6491fa" stroke="#0a0f1e" stroke-width="1.05"/><circle cx="154.3" cy="127.0" r="2.85" fill="#6491fa" stroke="#0a0f1e" stroke-width="1.05"/><circle cx="155.9" cy="133.9" r="2.85" fill="#6491fa" stroke="#0a0f1e" stroke-width="1.05"/><circle cx="142.1" cy="110.2" r="2.85" fill="#6491fa" stroke="#0a0f1e" stroke-width="1.05"/><circle cx="139.0" cy="100.3" r="2.85" fill="#6491fa" stroke="#0a0f1e" stroke-width="1.05"/><circle cx="163.2" cy="142.9" r="2.85" fill="#6491fa" stroke="#0a0f1e" stroke-width="1.05"/><circle cx="166.0" cy="162.2" r="2.85" fill="#6491fa" stroke="#0a0f1e" stroke-width="1.05"/><circle cx="168.7" cy="154.9" r="2.85" fill="#6491fa" stroke="#0a0f1e" stroke-width="1.05"/><circle cx="188.9" cy="134.6" r="2.85" fill="#6491fa" stroke="#0a0f1e" stroke-width="1.05"/><circle cx="162.8" cy="142.8" r="2.85" fill="#6491fa" stroke="#0a0f1e" stroke-width="1.05"/><circle cx="163.8" cy="148.3" r="2.85" fill="#6491fa" stroke="#0a0f1e" stroke-width="1.05"/><circle cx="168.3" cy="154.8" r="2.85" fill="#6491fa" stroke="#0a0f1e" stroke-width="1.05"/><circle cx="172.0" cy="156.6" r="2.85" fill="#6491fa" stroke="#0a0f1e" stroke-width="1.05"/><circle cx="174.8" cy="158.4" r="2.85" fill="#6491fa" stroke="#0a0f1e" stroke-width="1.05"/><circle cx="177.5" cy="160.3" r="2.85" fill="#6491fa" stroke="#0a0f1e" stroke-width="1.05"/><circle cx="166.5" cy="162.1" r="2.85" fill="#6491fa" stroke="#0a0f1e" stroke-width="1.05"/><circle cx="185.8" cy="169.4" r="2.85" fill="#8073fa" stroke="#0a0f1e" stroke-width="1.05"/><circle cx="189.4" cy="171.3" r="2.85" fill="#8073fa" stroke="#0a0f1e" stroke-width="1.05"/><circle cx="194.0" cy="172.2" r="2.85" fill="#8073fa" stroke="#0a0f1e" stroke-width="1.05"/><circle cx="197.7" cy="174.0" r="2.85" fill="#8073fa" stroke="#0a0f1e" stroke-width="1.05"/><circle cx="194.0" cy="177.7" r="2.85" fill="#8073fa" stroke="#0a0f1e" stroke-width="1.05"/><circle cx="200.5" cy="178.6" r="2.85" fill="#8073fa" stroke="#0a0f1e" stroke-width="1.05"/><circle cx="204.1" cy="183.2" r="2.85" fill="#8073fa" stroke="#0a0f1e" stroke-width="1.05"/><circle cx="203.2" cy="158.4" r="2.85" fill="#6491fa" stroke="#0a0f1e" stroke-width="1.05"/><circle cx="208.3" cy="158.4" r="2.85" fill="#a550fa" stroke="#0a0f1e" stroke-width="1.05"/><circle cx="228.8" cy="170.5" r="2.85" fill="#8073fa" stroke="#0a0f1e" stroke-width="1.05"/><circle cx="212.9" cy="187.4" r="2.85" fill="#8073fa" stroke="#0a0f1e" stroke-width="1.05"/><circle cx="210.2" cy="192.0" r="2.85" fill="#8073fa" stroke="#0a0f1e" stroke-width="1.05"/><circle cx="210.2" cy="194.8" r="2.85" fill="#8073fa" stroke="#0a0f1e" stroke-width="1.05"/><circle cx="212.9" cy="199.4" r="2.85" fill="#8073fa" stroke="#0a0f1e" stroke-width="1.05"/><circle cx="217.5" cy="200.3" r="2.85" fill="#8073fa" stroke="#0a0f1e" stroke-width="1.05"/><circle cx="221.2" cy="194.8" r="2.85" fill="#8073fa" stroke="#0a0f1e" stroke-width="1.05"/><circle cx="223.9" cy="196.6" r="2.85" fill="#8073fa" stroke="#0a0f1e" stroke-width="1.05"/><circle cx="227.6" cy="198.4" r="2.85" fill="#8073fa" stroke="#0a0f1e" stroke-width="1.05"/><circle cx="219.4" cy="209.4" r="2.85" fill="#a550fa" stroke="#0a0f1e" stroke-width="1.05"/><circle cx="240.5" cy="210.4" r="2.85" fill="#a550fa" stroke="#0a0f1e" stroke-width="1.05"/><circle cx="235.0" cy="222.3" r="2.85" fill="#a550fa" stroke="#0a0f1e" stroke-width="1.05"/><circle cx="251.6" cy="225.8" r="2.85" fill="#a550fa" stroke="#0a0f1e" stroke-width="1.05"/><circle cx="273.1" cy="244.5" r="2.85" fill="#c037fa" stroke="#0a0f1e" stroke-width="1.05"/><circle cx="302.1" cy="262.3" r="2.85" fill="#dc20f5" stroke="#0a0f1e" stroke-width="1.05"/></g><g clip-path="url(#cr)"><circle cx="440.7" cy="97.0" r="2.9" fill="#6491fa"/><circle cx="447.5" cy="97.3" r="2.9" fill="#6491fa"/><circle cx="453.0" cy="96.2" r="2.9" fill="#6491fa"/><circle cx="448.9" cy="103.9" r="2.9" fill="#6491fa"/><circle cx="457.7" cy="102.5" r="2.9" fill="#6491fa"/><circle cx="454.8" cy="107.4" r="2.9" fill="#6491fa"/><circle cx="449.2" cy="115.0" r="2.9" fill="#6491fa"/><circle cx="459.1" cy="114.3" r="2.9" fill="#6491fa"/><circle cx="460.7" cy="148.5" r="2.9" fill="#6491fa"/><circle cx="463.4" cy="148.4" r="2.9" fill="#6491fa"/><circle cx="467.4" cy="149.1" r="2.9" fill="#6491fa"/><circle cx="461.6" cy="151.3" r="2.9" fill="#6491fa"/><circle cx="466.3" cy="151.9" r="2.9" fill="#6491fa"/><circle cx="469.5" cy="151.7" r="2.9" fill="#6491fa"/><circle cx="473.1" cy="151.6" r="2.9" fill="#6491fa"/><circle cx="467.9" cy="155.1" r="2.9" fill="#6491fa"/><circle cx="471.5" cy="154.6" r="2.9" fill="#6491fa"/><circle cx="475.4" cy="155.8" r="2.9" fill="#6491fa"/><circle cx="479.3" cy="154.9" r="2.9" fill="#6491fa"/><circle cx="469.9" cy="159.8" r="2.9" fill="#6491fa"/><circle cx="474.7" cy="159.5" r="2.9" fill="#6491fa"/><circle cx="478.9" cy="158.0" r="2.9" fill="#6491fa"/><circle cx="482.6" cy="158.5" r="2.9" fill="#8073fa"/><circle cx="485.3" cy="158.6" r="2.9" fill="#8073fa"/><circle cx="475.1" cy="162.2" r="2.9" fill="#6491fa"/><circle cx="480.2" cy="162.9" r="2.9" fill="#8073fa"/><circle cx="483.8" cy="162.7" r="2.9" fill="#8073fa"/><circle cx="488.9" cy="162.2" r="2.9" fill="#8073fa"/><circle cx="491.4" cy="161.4" r="2.9" fill="#8073fa"/><circle cx="482.7" cy="165.4" r="2.9" fill="#8073fa"/><circle cx="485.4" cy="166.1" r="2.9" fill="#8073fa"/><circle cx="489.3" cy="166.5" r="2.9" fill="#8073fa"/><circle cx="493.5" cy="166.6" r="2.9" fill="#8073fa"/><circle cx="487.2" cy="169.9" r="2.9" fill="#8073fa"/><circle cx="491.5" cy="169.0" r="2.9" fill="#8073fa"/><circle cx="496.2" cy="168.5" r="2.9" fill="#8073fa"/><circle cx="500.5" cy="169.1" r="2.9" fill="#8073fa"/><circle cx="489.5" cy="172.6" r="2.9" fill="#8073fa"/><circle cx="494.9" cy="173.3" r="2.9" fill="#8073fa"/><circle cx="498.3" cy="171.8" r="2.9" fill="#8073fa"/><circle cx="501.9" cy="171.7" r="2.9" fill="#8073fa"/><circle cx="505.1" cy="172.5" r="2.9" fill="#8073fa"/><circle cx="495.0" cy="176.7" r="2.9" fill="#8073fa"/><circle cx="500.3" cy="175.8" r="2.9" fill="#8073fa"/><circle cx="504.8" cy="176.3" r="2.9" fill="#8073fa"/><circle cx="507.4" cy="177.1" r="2.9" fill="#8073fa"/><circle cx="511.5" cy="176.8" r="2.9" fill="#8073fa"/><circle cx="502.9" cy="179.5" r="2.9" fill="#8073fa"/><circle cx="505.9" cy="180.5" r="2.9" fill="#8073fa"/><circle cx="509.8" cy="179.4" r="2.9" fill="#8073fa"/><circle cx="513.8" cy="179.1" r="2.9" fill="#8073fa"/><circle cx="507.4" cy="182.2" r="2.9" fill="#8073fa"/><circle cx="511.6" cy="184.0" r="2.9" fill="#8073fa"/><circle cx="515.1" cy="182.8" r="2.9" fill="#a550fa"/><circle cx="510.6" cy="187.5" r="2.9" fill="#8073fa"/><circle cx="513.8" cy="187.3" r="2.9" fill="#8073fa"/><circle cx="518.4" cy="187.1" r="2.9" fill="#a550fa"/><circle cx="522.0" cy="187.1" r="2.9" fill="#a550fa"/><circle cx="512.6" cy="190.1" r="2.9" fill="#8073fa"/><circle cx="515.8" cy="190.7" r="2.9" fill="#a550fa"/><circle cx="519.6" cy="190.8" r="2.9" fill="#a550fa"/><circle cx="524.4" cy="190.3" r="2.9" fill="#a550fa"/><circle cx="517.2" cy="193.4" r="2.9" fill="#a550fa"/><circle cx="522.5" cy="192.5" r="2.9" fill="#a550fa"/><circle cx="526.3" cy="194.3" r="2.9" fill="#a550fa"/><circle cx="520.5" cy="196.8" r="2.9" fill="#a550fa"/><circle cx="524.9" cy="196.9" r="2.9" fill="#a550fa"/><circle cx="528.6" cy="196.3" r="2.9" fill="#a550fa"/><circle cx="525.5" cy="200.9" r="2.9" fill="#a550fa"/><circle cx="529.4" cy="200.4" r="2.9" fill="#a550fa"/><circle cx="533.7" cy="199.7" r="2.9" fill="#a550fa"/><circle cx="528.5" cy="203.0" r="2.9" fill="#a550fa"/><circle cx="520.2" cy="195.7" r="2.9" fill="#8073fa"/><circle cx="524.2" cy="195.8" r="2.9" fill="#8073fa"/><circle cx="526.9" cy="195.9" r="2.9" fill="#8073fa"/><circle cx="531.1" cy="195.7" r="2.9" fill="#8073fa"/><circle cx="517.9" cy="199.0" r="2.9" fill="#8073fa"/><circle cx="521.0" cy="198.9" r="2.9" fill="#8073fa"/><circle cx="525.3" cy="198.1" r="2.9" fill="#8073fa"/><circle cx="528.7" cy="198.6" r="2.9" fill="#8073fa"/><circle cx="532.6" cy="198.5" r="2.9" fill="#8073fa"/><circle cx="515.2" cy="202.1" r="2.9" fill="#8073fa"/><circle cx="520.4" cy="201.7" r="2.9" fill="#8073fa"/><circle cx="523.9" cy="202.6" r="2.9" fill="#8073fa"/><circle cx="526.6" cy="201.3" r="2.9" fill="#8073fa"/><circle cx="531.6" cy="202.4" r="2.9" fill="#8073fa"/><circle cx="535.1" cy="201.3" r="2.9" fill="#8073fa"/><circle cx="517.2" cy="205.9" r="2.9" fill="#a550fa"/><circle cx="521.8" cy="205.5" r="2.9" fill="#a550fa"/><circle cx="524.9" cy="205.4" r="2.9" fill="#a550fa"/><circle cx="529.3" cy="205.3" r="2.9" fill="#a550fa"/><circle cx="532.8" cy="205.5" r="2.9" fill="#a550fa"/><circle cx="536.5" cy="204.8" r="2.9" fill="#8073fa"/><circle cx="519.0" cy="208.4" r="2.9" fill="#a550fa"/><circle cx="523.2" cy="207.8" r="2.9" fill="#a550fa"/><circle cx="526.5" cy="209.3" r="2.9" fill="#a550fa"/><circle cx="530.5" cy="208.1" r="2.9" fill="#a550fa"/><circle cx="534.5" cy="208.6" r="2.9" fill="#a550fa"/><circle cx="538.0" cy="208.4" r="2.9" fill="#a550fa"/><circle cx="521.9" cy="211.4" r="2.9" fill="#a550fa"/><circle cx="524.7" cy="211.7" r="2.9" fill="#a550fa"/><circle cx="529.9" cy="212.1" r="2.9" fill="#a550fa"/><circle cx="532.6" cy="212.0" r="2.9" fill="#a550fa"/><circle cx="537.4" cy="211.4" r="2.9" fill="#a550fa"/><circle cx="540.7" cy="211.5" r="2.9" fill="#a550fa"/><circle cx="523.7" cy="214.2" r="2.9" fill="#a550fa"/><circle cx="527.7" cy="214.5" r="2.9" fill="#a550fa"/><circle cx="531.1" cy="215.1" r="2.9" fill="#a550fa"/><circle cx="534.6" cy="214.7" r="2.9" fill="#a550fa"/><circle cx="538.6" cy="214.5" r="2.9" fill="#a550fa"/><circle cx="543.1" cy="214.4" r="2.9" fill="#a550fa"/><circle cx="526.0" cy="219.1" r="2.9" fill="#a550fa"/><circle cx="528.5" cy="218.4" r="2.9" fill="#a550fa"/><circle cx="532.4" cy="218.8" r="2.9" fill="#a550fa"/><circle cx="536.5" cy="219.0" r="2.9" fill="#a550fa"/><circle cx="540.7" cy="217.7" r="2.9" fill="#a550fa"/><circle cx="543.6" cy="217.9" r="2.9" fill="#a550fa"/><circle cx="527.6" cy="222.3" r="2.9" fill="#c037fa"/><circle cx="531.1" cy="222.3" r="2.9" fill="#c037fa"/><circle cx="534.8" cy="221.7" r="2.9" fill="#a550fa"/><circle cx="538.9" cy="222.2" r="2.9" fill="#c037fa"/><circle cx="543.1" cy="221.0" r="2.9" fill="#a550fa"/><circle cx="545.7" cy="221.7" r="2.9" fill="#a550fa"/><circle cx="529.6" cy="224.3" r="2.9" fill="#c037fa"/><circle cx="533.3" cy="225.5" r="2.9" fill="#c037fa"/><circle cx="537.6" cy="225.4" r="2.9" fill="#c037fa"/><circle cx="540.5" cy="225.1" r="2.9" fill="#c037fa"/><circle cx="544.9" cy="225.3" r="2.9" fill="#c037fa"/><circle cx="530.3" cy="227.8" r="2.9" fill="#c037fa"/><circle cx="534.6" cy="228.9" r="2.9" fill="#c037fa"/><circle cx="538.3" cy="228.8" r="2.9" fill="#c037fa"/><circle cx="543.1" cy="228.1" r="2.9" fill="#c037fa"/><circle cx="536.3" cy="230.9" r="2.9" fill="#c037fa"/><circle cx="540.7" cy="231.2" r="2.9" fill="#c037fa"/><circle cx="352.8" cy="58.2" r="2.9" fill="#2db2f5"/><circle cx="362.0" cy="53.0" r="2.9" fill="#2db2f5"/><circle cx="378.2" cy="56.7" r="2.9" fill="#2db2f5"/><circle cx="366.6" cy="66.8" r="2.9" fill="#2db2f5"/><circle cx="366.6" cy="69.5" r="2.9" fill="#2db2f5"/><circle cx="383.1" cy="72.3" r="2.9" fill="#2db2f5"/><circle cx="469.9" cy="28.9" r="2.9" fill="#2db2f5"/><circle cx="469.9" cy="32.9" r="2.9" fill="#2db2f5"/><circle cx="459.4" cy="36.6" r="2.9" fill="#4ba5fa"/><circle cx="466.8" cy="39.4" r="2.9" fill="#6491fa"/><circle cx="461.3" cy="47.6" r="2.9" fill="#6491fa"/><circle cx="426.4" cy="45.8" r="2.9" fill="#2db2f5"/><circle cx="436.1" cy="44.0" r="2.9" fill="#2db2f5"/><circle cx="429.2" cy="55.0" r="2.9" fill="#6491fa"/><circle cx="441.1" cy="54.0" r="2.9" fill="#6491fa"/><circle cx="447.5" cy="52.2" r="2.9" fill="#4ba5fa"/><circle cx="458.5" cy="61.4" r="2.9" fill="#4ba5fa"/><circle cx="466.8" cy="56.8" r="2.9" fill="#6491fa"/><circle cx="462.2" cy="65.0" r="2.9" fill="#4ba5fa"/><circle cx="465.5" cy="68.3" r="2.9" fill="#4ba5fa"/><circle cx="380.9" cy="77.4" r="2.9" fill="#2db2f5"/><circle cx="398.0" cy="79.8" r="2.9" fill="#4ba5fa"/><circle cx="395.6" cy="91.2" r="2.9" fill="#4ba5fa"/><circle cx="417.6" cy="93.0" r="2.9" fill="#4ba5fa"/><circle cx="455.7" cy="77.4" r="2.9" fill="#4ba5fa"/><circle cx="463.0" cy="89.4" r="2.9" fill="#6491fa"/><circle cx="447.4" cy="82.0" r="2.9" fill="#6491fa"/><circle cx="444.7" cy="94.9" r="2.9" fill="#6491fa"/><circle cx="458.4" cy="102.6" r="2.9" fill="#6491fa"/><circle cx="456.6" cy="109.2" r="2.9" fill="#6491fa"/><circle cx="423.9" cy="134.0" r="2.9" fill="#6491fa"/><circle cx="438.5" cy="143.2" r="2.9" fill="#6491fa"/><circle cx="456.9" cy="108.3" r="2.9" fill="#6491fa"/><circle cx="466.6" cy="133.2" r="2.9" fill="#6491fa"/><circle cx="497.8" cy="133.8" r="2.9" fill="#6491fa"/><circle cx="489.5" cy="145.7" r="2.9" fill="#6491fa"/><circle cx="492.3" cy="149.4" r="2.9" fill="#6491fa"/><circle cx="498.7" cy="145.7" r="2.9" fill="#6491fa"/><circle cx="481.3" cy="148.4" r="2.9" fill="#6491fa"/><circle cx="486.8" cy="155.8" r="2.9" fill="#6491fa"/><circle cx="463.9" cy="157.6" r="2.9" fill="#8073fa"/><circle cx="489.5" cy="165.9" r="2.9" fill="#8073fa"/><circle cx="493.2" cy="164.0" r="2.9" fill="#8073fa"/><circle cx="447.3" cy="141.1" r="2.9" fill="#6491fa"/><circle cx="452.8" cy="146.6" r="2.9" fill="#6491fa"/><circle cx="458.3" cy="156.7" r="2.9" fill="#8073fa"/><circle cx="514.9" cy="174.8" r="2.9" fill="#8073fa"/><circle cx="517.6" cy="178.4" r="2.9" fill="#8073fa"/><circle cx="535.0" cy="184.0" r="2.9" fill="#a550fa"/><circle cx="509.4" cy="208.7" r="2.9" fill="#a550fa"/><circle cx="535.0" cy="209.6" r="2.9" fill="#a550fa"/><circle cx="556.9" cy="203.8" r="2.9" fill="#8073fa"/><circle cx="534.9" cy="239.5" r="2.9" fill="#dc20f5"/><circle cx="547.7" cy="248.7" r="2.9" fill="#dc20f5"/><circle cx="582.5" cy="222.5" r="2.9" fill="#a550fa"/><circle cx="576.7" cy="230.0" r="2.9" fill="#8073fa"/><circle cx="549.3" cy="227.4" r="2.9" fill="#dc20f5"/><circle cx="561.0" cy="255.7" r="2.9" fill="#dc20f5"/><circle cx="563.2" cy="257.8" r="2.9" fill="#dc20f5"/><circle cx="545.0" cy="237.5" r="2.9" fill="#dc20f5"/><circle cx="552.5" cy="242.8" r="2.9" fill="#dc20f5"/><circle cx="556.8" cy="248.2" r="2.9" fill="#dc20f5"/><circle cx="355.3" cy="214.0" r="2.9" fill="#a550fa"/><circle cx="362.5" cy="231.3" r="2.9" fill="#8073fa"/><circle cx="376.8" cy="234.6" r="2.9" fill="#8073fa"/><circle cx="377.5" cy="235.5" r="2.9" fill="#a550fa"/><circle cx="380.4" cy="244.5" r="2.9" fill="#8073fa"/><circle cx="400.5" cy="253.4" r="2.9" fill="#c037fa"/><circle cx="410.4" cy="247.9" r="2.9" fill="#a550fa"/><circle cx="407.1" cy="257.0" r="2.9" fill="#8073fa"/><circle cx="377.7" cy="84.6" r="2.9" fill="#2db2f5"/><circle cx="522.7" cy="147.5" r="2.9" fill="#6491fa"/><circle cx="461.8" cy="48.3" r="2.9" fill="#6491fa"/><circle cx="461.0" cy="52.9" r="2.9" fill="#4ba5fa"/><circle cx="464.0" cy="56.8" r="2.9" fill="#4ba5fa"/><circle cx="468.6" cy="56.8" r="2.9" fill="#4ba5fa"/><circle cx="461.0" cy="62.9" r="2.9" fill="#4ba5fa"/><circle cx="457.9" cy="66.7" r="2.9" fill="#4ba5fa"/><circle cx="465.6" cy="68.2" r="2.9" fill="#4ba5fa"/><circle cx="454.9" cy="72.8" r="2.9" fill="#4ba5fa"/><circle cx="541.4" cy="183.7" r="2.9" fill="#a550fa"/><circle cx="546.9" cy="185.5" r="2.9" fill="#a550fa"/><circle cx="533.8" cy="230.5" r="2.9" fill="#dc20f5"/><circle cx="539.9" cy="233.6" r="2.9" fill="#dc20f5"/><circle cx="546.0" cy="236.6" r="2.9" fill="#dc20f5"/><circle cx="550.6" cy="241.2" r="2.9" fill="#dc20f5"/><circle cx="553.7" cy="245.8" r="2.9" fill="#dc20f5"/><circle cx="527.7" cy="219.8" r="2.9" fill="#a550fa"/><circle cx="543.0" cy="218.3" r="2.9" fill="#a550fa"/><circle cx="433.0" cy="113.9" r="2.8" fill="#6491fa" stroke="#0a0f1e" stroke-width="1.15"/><circle cx="434.4" cy="105.0" r="2.8" fill="#6491fa" stroke="#0a0f1e" stroke-width="1.15"/><circle cx="457.3" cy="141.8" r="2.8" fill="#6491fa" stroke="#0a0f1e" stroke-width="1.15"/><circle cx="436.2" cy="117.5" r="2.8" fill="#6491fa" stroke="#0a0f1e" stroke-width="1.15"/><circle cx="424.1" cy="103.1" r="2.8" fill="#6491fa" stroke="#0a0f1e" stroke-width="1.15"/><circle cx="451.3" cy="133.7" r="2.8" fill="#6491fa" stroke="#0a0f1e" stroke-width="1.15"/><circle cx="435.7" cy="120.4" r="2.8" fill="#6491fa" stroke="#0a0f1e" stroke-width="1.15"/><circle cx="426.5" cy="96.8" r="2.8" fill="#6491fa" stroke="#0a0f1e" stroke-width="1.15"/><circle cx="435.1" cy="111.9" r="2.8" fill="#6491fa" stroke="#0a0f1e" stroke-width="1.15"/><circle cx="457.6" cy="143.9" r="2.8" fill="#6491fa" stroke="#0a0f1e" stroke-width="1.15"/><circle cx="435.9" cy="129.1" r="2.8" fill="#6491fa" stroke="#0a0f1e" stroke-width="1.15"/><circle cx="448.0" cy="132.4" r="2.8" fill="#6491fa" stroke="#0a0f1e" stroke-width="1.15"/><circle cx="454.0" cy="138.3" r="2.8" fill="#6491fa" stroke="#0a0f1e" stroke-width="1.15"/><circle cx="459.6" cy="140.4" r="2.8" fill="#6491fa" stroke="#0a0f1e" stroke-width="1.15"/><circle cx="439.1" cy="116.3" r="2.8" fill="#6491fa" stroke="#0a0f1e" stroke-width="1.15"/><circle cx="434.2" cy="126.6" r="2.8" fill="#6491fa" stroke="#0a0f1e" stroke-width="1.15"/><circle cx="425.2" cy="104.0" r="2.8" fill="#6491fa" stroke="#0a0f1e" stroke-width="1.15"/><circle cx="452.4" cy="136.4" r="2.8" fill="#6491fa" stroke="#0a0f1e" stroke-width="1.15"/><circle cx="433.5" cy="103.7" r="2.8" fill="#6491fa" stroke="#0a0f1e" stroke-width="1.15"/><circle cx="440.0" cy="118.3" r="2.8" fill="#6491fa" stroke="#0a0f1e" stroke-width="1.15"/><circle cx="441.1" cy="126.7" r="2.8" fill="#6491fa" stroke="#0a0f1e" stroke-width="1.15"/><circle cx="460.7" cy="146.1" r="2.8" fill="#6491fa" stroke="#0a0f1e" stroke-width="1.15"/><circle cx="440.6" cy="128.5" r="2.8" fill="#6491fa" stroke="#0a0f1e" stroke-width="1.15"/><circle cx="431.5" cy="107.6" r="2.8" fill="#6491fa" stroke="#0a0f1e" stroke-width="1.15"/><circle cx="449.7" cy="131.1" r="2.8" fill="#6491fa" stroke="#0a0f1e" stroke-width="1.15"/><circle cx="434.9" cy="129.2" r="2.8" fill="#6491fa" stroke="#0a0f1e" stroke-width="1.15"/><circle cx="440.0" cy="126.4" r="2.8" fill="#6491fa" stroke="#0a0f1e" stroke-width="1.15"/><circle cx="444.0" cy="126.3" r="2.8" fill="#6491fa" stroke="#0a0f1e" stroke-width="1.15"/><circle cx="425.5" cy="104.1" r="2.8" fill="#6491fa" stroke="#0a0f1e" stroke-width="1.15"/><circle cx="432.7" cy="121.7" r="2.8" fill="#6491fa" stroke="#0a0f1e" stroke-width="1.15"/><circle cx="431.4" cy="109.6" r="2.8" fill="#6491fa" stroke="#0a0f1e" stroke-width="1.15"/><circle cx="456.0" cy="145.3" r="2.8" fill="#6491fa" stroke="#0a0f1e" stroke-width="1.15"/><circle cx="455.5" cy="132.2" r="2.8" fill="#6491fa" stroke="#0a0f1e" stroke-width="1.15"/><circle cx="443.2" cy="125.2" r="2.8" fill="#6491fa" stroke="#0a0f1e" stroke-width="1.15"/><circle cx="458.7" cy="140.0" r="2.8" fill="#6491fa" stroke="#0a0f1e" stroke-width="1.15"/><circle cx="441.8" cy="128.3" r="2.8" fill="#6491fa" stroke="#0a0f1e" stroke-width="1.15"/><circle cx="433.4" cy="115.1" r="2.8" fill="#6491fa" stroke="#0a0f1e" stroke-width="1.15"/><circle cx="429.0" cy="113.4" r="2.8" fill="#6491fa" stroke="#0a0f1e" stroke-width="1.15"/><circle cx="463.9" cy="138.9" r="2.8" fill="#6491fa" stroke="#0a0f1e" stroke-width="1.15"/><circle cx="449.2" cy="138.1" r="2.8" fill="#6491fa" stroke="#0a0f1e" stroke-width="1.15"/><circle cx="443.5" cy="132.4" r="2.8" fill="#6491fa" stroke="#0a0f1e" stroke-width="1.15"/><circle cx="461.2" cy="143.5" r="2.8" fill="#6491fa" stroke="#0a0f1e" stroke-width="1.15"/><circle cx="460.8" cy="142.1" r="2.8" fill="#6491fa" stroke="#0a0f1e" stroke-width="1.15"/><circle cx="452.1" cy="136.6" r="2.8" fill="#6491fa" stroke="#0a0f1e" stroke-width="1.15"/><circle cx="429.2" cy="110.9" r="2.8" fill="#6491fa" stroke="#0a0f1e" stroke-width="1.15"/><circle cx="446.8" cy="127.6" r="2.8" fill="#6491fa" stroke="#0a0f1e" stroke-width="1.15"/><circle cx="448.6" cy="130.4" r="2.8" fill="#6491fa" stroke="#0a0f1e" stroke-width="1.15"/><circle cx="448.6" cy="136.8" r="2.8" fill="#6491fa" stroke="#0a0f1e" stroke-width="1.15"/><circle cx="445.6" cy="133.5" r="2.8" fill="#6491fa" stroke="#0a0f1e" stroke-width="1.15"/><circle cx="434.4" cy="101.1" r="2.8" fill="#6491fa" stroke="#0a0f1e" stroke-width="1.15"/><circle cx="433.9" cy="97.6" r="2.8" fill="#6491fa" stroke="#0a0f1e" stroke-width="1.15"/><circle cx="454.5" cy="132.3" r="2.8" fill="#6491fa" stroke="#0a0f1e" stroke-width="1.15"/><circle cx="440.7" cy="134.0" r="2.8" fill="#6491fa" stroke="#0a0f1e" stroke-width="1.15"/><circle cx="437.1" cy="123.0" r="2.8" fill="#6491fa" stroke="#0a0f1e" stroke-width="1.15"/><circle cx="435.6" cy="109.5" r="2.8" fill="#6491fa" stroke="#0a0f1e" stroke-width="1.15"/><circle cx="439.1" cy="120.9" r="2.8" fill="#6491fa" stroke="#0a0f1e" stroke-width="1.15"/><circle cx="437.8" cy="131.3" r="2.8" fill="#6491fa" stroke="#0a0f1e" stroke-width="1.15"/><circle cx="426.1" cy="109.0" r="2.8" fill="#6491fa" stroke="#0a0f1e" stroke-width="1.15"/><circle cx="440.8" cy="122.8" r="2.8" fill="#6491fa" stroke="#0a0f1e" stroke-width="1.15"/><circle cx="440.2" cy="118.4" r="2.8" fill="#6491fa" stroke="#0a0f1e" stroke-width="1.15"/><circle cx="432.7" cy="108.0" r="2.8" fill="#6491fa" stroke="#0a0f1e" stroke-width="1.15"/><circle cx="450.2" cy="131.7" r="2.8" fill="#6491fa" stroke="#0a0f1e" stroke-width="1.15"/><circle cx="428.6" cy="100.9" r="2.8" fill="#6491fa" stroke="#0a0f1e" stroke-width="1.15"/><circle cx="461.2" cy="137.9" r="2.8" fill="#6491fa" stroke="#0a0f1e" stroke-width="1.15"/><circle cx="436.1" cy="116.5" r="2.8" fill="#6491fa" stroke="#0a0f1e" stroke-width="1.15"/><circle cx="438.8" cy="122.2" r="2.8" fill="#6491fa" stroke="#0a0f1e" stroke-width="1.15"/><circle cx="433.7" cy="118.0" r="2.8" fill="#6491fa" stroke="#0a0f1e" stroke-width="1.15"/><circle cx="442.9" cy="129.8" r="2.8" fill="#6491fa" stroke="#0a0f1e" stroke-width="1.15"/><circle cx="432.9" cy="115.4" r="2.8" fill="#6491fa" stroke="#0a0f1e" stroke-width="1.15"/><circle cx="429.9" cy="111.9" r="2.8" fill="#6491fa" stroke="#0a0f1e" stroke-width="1.15"/><circle cx="437.5" cy="122.1" r="2.8" fill="#6491fa" stroke="#0a0f1e" stroke-width="1.15"/><circle cx="438.0" cy="116.5" r="2.8" fill="#6491fa" stroke="#0a0f1e" stroke-width="1.15"/><circle cx="438.6" cy="120.1" r="2.8" fill="#6491fa" stroke="#0a0f1e" stroke-width="1.15"/><circle cx="443.1" cy="121.6" r="2.8" fill="#6491fa" stroke="#0a0f1e" stroke-width="1.15"/><circle cx="440.6" cy="120.9" r="2.8" fill="#6491fa" stroke="#0a0f1e" stroke-width="1.15"/><circle cx="462.1" cy="141.7" r="2.8" fill="#6491fa" stroke="#0a0f1e" stroke-width="1.15"/><circle cx="437.2" cy="108.1" r="2.8" fill="#6491fa" stroke="#0a0f1e" stroke-width="1.15"/><circle cx="433.5" cy="120.1" r="2.8" fill="#6491fa" stroke="#0a0f1e" stroke-width="1.15"/><circle cx="428.9" cy="100.8" r="2.8" fill="#6491fa" stroke="#0a0f1e" stroke-width="1.15"/><circle cx="458.8" cy="143.0" r="2.8" fill="#6491fa" stroke="#0a0f1e" stroke-width="1.15"/><circle cx="430.4" cy="99.9" r="2.8" fill="#6491fa" stroke="#0a0f1e" stroke-width="1.15"/><circle cx="439.9" cy="130.7" r="2.8" fill="#6491fa" stroke="#0a0f1e" stroke-width="1.15"/><circle cx="447.1" cy="125.3" r="2.8" fill="#6491fa" stroke="#0a0f1e" stroke-width="1.15"/><circle cx="434.0" cy="123.0" r="2.8" fill="#6491fa" stroke="#0a0f1e" stroke-width="1.15"/><circle cx="446.7" cy="130.4" r="2.8" fill="#6491fa" stroke="#0a0f1e" stroke-width="1.15"/><circle cx="425.8" cy="97.0" r="2.8" fill="#6491fa" stroke="#0a0f1e" stroke-width="1.15"/><circle cx="426.7" cy="111.8" r="2.8" fill="#6491fa" stroke="#0a0f1e" stroke-width="1.15"/><circle cx="449.3" cy="139.9" r="2.8" fill="#6491fa" stroke="#0a0f1e" stroke-width="1.15"/><circle cx="437.0" cy="123.9" r="2.8" fill="#6491fa" stroke="#0a0f1e" stroke-width="1.15"/><circle cx="434.9" cy="108.6" r="2.8" fill="#6491fa" stroke="#0a0f1e" stroke-width="1.15"/><circle cx="439.4" cy="111.4" r="2.8" fill="#6491fa" stroke="#0a0f1e" stroke-width="1.15"/><circle cx="453.4" cy="141.8" r="2.8" fill="#6491fa" stroke="#0a0f1e" stroke-width="1.15"/><circle cx="457.9" cy="142.3" r="2.8" fill="#6491fa" stroke="#0a0f1e" stroke-width="1.15"/><circle cx="425.3" cy="99.1" r="2.8" fill="#6491fa" stroke="#0a0f1e" stroke-width="1.15"/><circle cx="439.4" cy="114.4" r="2.8" fill="#6491fa" stroke="#0a0f1e" stroke-width="1.15"/><circle cx="441.0" cy="123.2" r="2.8" fill="#101a3c" stroke="#0a0f1e" stroke-width="1.15"/><circle cx="443.2" cy="126.2" r="2.8" fill="#101a3c" stroke="#0a0f1e" stroke-width="1.15"/><circle cx="448.3" cy="136.6" r="2.8" fill="#101a3c" stroke="#0a0f1e" stroke-width="1.15"/><circle cx="428.1" cy="110.5" r="2.8" fill="#101a3c" stroke="#0a0f1e" stroke-width="1.15"/><circle cx="462.8" cy="145.5" r="2.8" fill="#101a3c" stroke="#0a0f1e" stroke-width="1.15"/><circle cx="431.4" cy="107.2" r="2.8" fill="#101a3c" stroke="#0a0f1e" stroke-width="1.15"/><circle cx="444.2" cy="127.5" r="2.8" fill="#101a3c" stroke="#0a0f1e" stroke-width="1.15"/><circle cx="443.3" cy="129.1" r="2.8" fill="#101a3c" stroke="#0a0f1e" stroke-width="1.15"/><circle cx="428.9" cy="108.0" r="2.8" fill="#101a3c" stroke="#0a0f1e" stroke-width="1.15"/><circle cx="427.6" cy="98.6" r="2.8" fill="#101a3c" stroke="#0a0f1e" stroke-width="1.15"/><circle cx="433.0" cy="109.1" r="2.8" fill="#101a3c" stroke="#0a0f1e" stroke-width="1.15"/><circle cx="431.8" cy="115.8" r="2.8" fill="#101a3c" stroke="#0a0f1e" stroke-width="1.15"/><circle cx="437.1" cy="118.2" r="2.8" fill="#101a3c" stroke="#0a0f1e" stroke-width="1.15"/><circle cx="431.5" cy="104.2" r="2.8" fill="#101a3c" stroke="#0a0f1e" stroke-width="1.15"/><circle cx="459.0" cy="138.4" r="2.8" fill="#101a3c" stroke="#0a0f1e" stroke-width="1.15"/><circle cx="435.1" cy="106.0" r="2.8" fill="#101a3c" stroke="#0a0f1e" stroke-width="1.15"/><circle cx="425.3" cy="107.5" r="2.8" fill="#101a3c" stroke="#0a0f1e" stroke-width="1.15"/><circle cx="431.0" cy="114.8" r="2.8" fill="#101a3c" stroke="#0a0f1e" stroke-width="1.15"/><circle cx="429.4" cy="96.5" r="2.8" fill="#101a3c" stroke="#0a0f1e" stroke-width="1.15"/><circle cx="442.7" cy="133.9" r="2.8" fill="#101a3c" stroke="#0a0f1e" stroke-width="1.15"/><circle cx="453.2" cy="141.6" r="2.8" fill="#101a3c" stroke="#0a0f1e" stroke-width="1.15"/><circle cx="453.0" cy="132.1" r="2.8" fill="#101a3c" stroke="#0a0f1e" stroke-width="1.15"/><circle cx="455.3" cy="142.6" r="2.8" fill="#101a3c" stroke="#0a0f1e" stroke-width="1.15"/><circle cx="458.7" cy="139.9" r="2.8" fill="#101a3c" stroke="#0a0f1e" stroke-width="1.15"/><circle cx="446.5" cy="126.3" r="2.8" fill="#101a3c" stroke="#0a0f1e" stroke-width="1.15"/><circle cx="431.0" cy="103.0" r="2.8" fill="#101a3c" stroke="#0a0f1e" stroke-width="1.15"/><circle cx="432.3" cy="116.7" r="2.8" fill="#101a3c" stroke="#0a0f1e" stroke-width="1.15"/><circle cx="455.9" cy="139.1" r="2.8" fill="#101a3c" stroke="#0a0f1e" stroke-width="1.15"/><circle cx="435.7" cy="104.5" r="2.8" fill="#101a3c" stroke="#0a0f1e" stroke-width="1.15"/><circle cx="432.1" cy="115.9" r="2.8" fill="#101a3c" stroke="#0a0f1e" stroke-width="1.15"/><circle cx="424.4" cy="101.5" r="2.8" fill="#101a3c" stroke="#0a0f1e" stroke-width="1.15"/><circle cx="448.2" cy="129.3" r="2.8" fill="#101a3c" stroke="#0a0f1e" stroke-width="1.15"/><circle cx="434.0" cy="112.5" r="2.8" fill="#101a3c" stroke="#0a0f1e" stroke-width="1.15"/><circle cx="447.8" cy="134.3" r="2.8" fill="#101a3c" stroke="#0a0f1e" stroke-width="1.15"/><circle cx="438.2" cy="124.1" r="2.8" fill="#101a3c" stroke="#0a0f1e" stroke-width="1.15"/><circle cx="457.6" cy="136.0" r="2.8" fill="#101a3c" stroke="#0a0f1e" stroke-width="1.15"/><circle cx="452.5" cy="137.4" r="2.8" fill="#101a3c" stroke="#0a0f1e" stroke-width="1.15"/><circle cx="447.2" cy="132.7" r="2.8" fill="#101a3c" stroke="#0a0f1e" stroke-width="1.15"/><circle cx="444.9" cy="135.6" r="2.8" fill="#101a3c" stroke="#0a0f1e" stroke-width="1.15"/><circle cx="445.3" cy="133.1" r="2.8" fill="#101a3c" stroke="#0a0f1e" stroke-width="1.15"/><circle cx="428.5" cy="103.4" r="2.8" fill="#101a3c" stroke="#0a0f1e" stroke-width="1.15"/><circle cx="445.4" cy="133.9" r="2.8" fill="#101a3c" stroke="#0a0f1e" stroke-width="1.15"/><circle cx="432.2" cy="122.4" r="2.8" fill="#101a3c" stroke="#0a0f1e" stroke-width="1.15"/><circle cx="436.6" cy="114.1" r="2.8" fill="#101a3c" stroke="#0a0f1e" stroke-width="1.15"/><circle cx="458.0" cy="141.4" r="2.8" fill="#101a3c" stroke="#0a0f1e" stroke-width="1.15"/><circle cx="461.5" cy="142.3" r="2.8" fill="#101a3c" stroke="#0a0f1e" stroke-width="1.15"/><circle cx="434.7" cy="119.6" r="2.8" fill="#101a3c" stroke="#0a0f1e" stroke-width="1.15"/><circle cx="456.5" cy="141.1" r="2.8" fill="#101a3c" stroke="#0a0f1e" stroke-width="1.15"/><circle cx="437.9" cy="128.3" r="2.8" fill="#101a3c" stroke="#0a0f1e" stroke-width="1.15"/><circle cx="437.9" cy="116.7" r="2.8" fill="#101a3c" stroke="#0a0f1e" stroke-width="1.15"/><circle cx="440.0" cy="130.3" r="2.8" fill="#101a3c" stroke="#0a0f1e" stroke-width="1.15"/><circle cx="443.6" cy="135.3" r="2.8" fill="#101a3c" stroke="#0a0f1e" stroke-width="1.15"/><circle cx="444.3" cy="131.0" r="2.8" fill="#101a3c" stroke="#0a0f1e" stroke-width="1.15"/><circle cx="431.5" cy="98.0" r="2.8" fill="#101a3c" stroke="#0a0f1e" stroke-width="1.15"/><circle cx="431.3" cy="106.7" r="2.8" fill="#101a3c" stroke="#0a0f1e" stroke-width="1.15"/><circle cx="442.7" cy="134.0" r="2.8" fill="#101a3c" stroke="#0a0f1e" stroke-width="1.15"/><circle cx="435.5" cy="118.9" r="2.8" fill="#101a3c" stroke="#0a0f1e" stroke-width="1.15"/><circle cx="451.4" cy="138.6" r="2.8" fill="#101a3c" stroke="#0a0f1e" stroke-width="1.15"/><circle cx="430.9" cy="118.8" r="2.8" fill="#101a3c" stroke="#0a0f1e" stroke-width="1.15"/><circle cx="453.6" cy="135.6" r="2.8" fill="#101a3c" stroke="#0a0f1e" stroke-width="1.15"/><circle cx="451.8" cy="134.0" r="2.8" fill="#101a3c" stroke="#0a0f1e" stroke-width="1.15"/><circle cx="448.3" cy="133.7" r="2.8" fill="#101a3c" stroke="#0a0f1e" stroke-width="1.15"/><circle cx="433.1" cy="116.6" r="2.8" fill="#101a3c" stroke="#0a0f1e" stroke-width="1.15"/><circle cx="425.0" cy="104.3" r="2.8" fill="#101a3c" stroke="#0a0f1e" stroke-width="1.15"/><circle cx="446.1" cy="126.9" r="2.8" fill="#101a3c" stroke="#0a0f1e" stroke-width="1.15"/><circle cx="462.8" cy="144.9" r="2.8" fill="#101a3c" stroke="#0a0f1e" stroke-width="1.15"/><circle cx="441.4" cy="119.2" r="2.8" fill="#101a3c" stroke="#0a0f1e" stroke-width="1.15"/><circle cx="432.2" cy="98.5" r="2.8" fill="#101a3c" stroke="#0a0f1e" stroke-width="1.15"/><circle cx="441.2" cy="129.8" r="2.8" fill="#101a3c" stroke="#0a0f1e" stroke-width="1.15"/><circle cx="446.8" cy="128.4" r="2.8" fill="#101a3c" stroke="#0a0f1e" stroke-width="1.15"/><circle cx="434.2" cy="116.8" r="2.8" fill="#101a3c" stroke="#0a0f1e" stroke-width="1.15"/><circle cx="444.7" cy="127.3" r="2.8" fill="#101a3c" stroke="#0a0f1e" stroke-width="1.15"/><circle cx="438.7" cy="120.2" r="2.8" fill="#101a3c" stroke="#0a0f1e" stroke-width="1.15"/><circle cx="432.0" cy="112.2" r="2.8" fill="#101a3c" stroke="#0a0f1e" stroke-width="1.15"/><circle cx="453.3" cy="138.8" r="2.8" fill="#101a3c" stroke="#0a0f1e" stroke-width="1.15"/><circle cx="427.7" cy="100.9" r="2.8" fill="#101a3c" stroke="#0a0f1e" stroke-width="1.15"/><circle cx="436.4" cy="123.8" r="2.8" fill="#101a3c" stroke="#0a0f1e" stroke-width="1.15"/><circle cx="428.0" cy="99.3" r="2.8" fill="#101a3c" stroke="#0a0f1e" stroke-width="1.15"/><circle cx="459.8" cy="143.3" r="2.8" fill="#101a3c" stroke="#0a0f1e" stroke-width="1.15"/><circle cx="436.2" cy="116.3" r="2.8" fill="#101a3c" stroke="#0a0f1e" stroke-width="1.15"/><circle cx="461.0" cy="142.2" r="2.8" fill="#101a3c" stroke="#0a0f1e" stroke-width="1.15"/><circle cx="432.7" cy="114.3" r="2.8" fill="#101a3c" stroke="#0a0f1e" stroke-width="1.15"/><circle cx="437.7" cy="114.3" r="2.8" fill="#101a3c" stroke="#0a0f1e" stroke-width="1.15"/><circle cx="438.0" cy="115.1" r="2.8" fill="#101a3c" stroke="#0a0f1e" stroke-width="1.15"/><circle cx="444.7" cy="125.3" r="2.8" fill="#101a3c" stroke="#0a0f1e" stroke-width="1.15"/><circle cx="443.3" cy="123.7" r="2.8" fill="#101a3c" stroke="#0a0f1e" stroke-width="1.15"/><circle cx="457.0" cy="138.1" r="2.8" fill="#101a3c" stroke="#0a0f1e" stroke-width="1.15"/><circle cx="425.2" cy="101.8" r="2.8" fill="#101a3c" stroke="#0a0f1e" stroke-width="1.15"/><circle cx="430.9" cy="109.0" r="2.8" fill="#101a3c" stroke="#0a0f1e" stroke-width="1.15"/><circle cx="437.1" cy="108.2" r="2.8" fill="#101a3c" stroke="#0a0f1e" stroke-width="1.15"/><circle cx="434.4" cy="122.0" r="2.8" fill="#101a3c" stroke="#0a0f1e" stroke-width="1.15"/><circle cx="427.0" cy="109.1" r="2.8" fill="#101a3c" stroke="#0a0f1e" stroke-width="1.15"/><circle cx="435.7" cy="111.4" r="2.8" fill="#101a3c" stroke="#0a0f1e" stroke-width="1.15"/><circle cx="440.8" cy="132.7" r="2.8" fill="#101a3c" stroke="#0a0f1e" stroke-width="1.15"/><circle cx="438.4" cy="124.0" r="2.8" fill="#101a3c" stroke="#0a0f1e" stroke-width="1.15"/><circle cx="435.4" cy="112.1" r="2.8" fill="#101a3c" stroke="#0a0f1e" stroke-width="1.15"/><circle cx="439.0" cy="129.8" r="2.8" fill="#101a3c" stroke="#0a0f1e" stroke-width="1.15"/><circle cx="429.9" cy="99.6" r="2.8" fill="#101a3c" stroke="#0a0f1e" stroke-width="1.15"/><circle cx="449.9" cy="132.1" r="2.8" fill="#101a3c" stroke="#0a0f1e" stroke-width="1.15"/><circle cx="431.5" cy="114.9" r="2.8" fill="#101a3c" stroke="#0a0f1e" stroke-width="1.15"/><circle cx="429.5" cy="101.0" r="2.8" fill="#101a3c" stroke="#0a0f1e" stroke-width="1.15"/><circle cx="454.9" cy="138.4" r="2.8" fill="#101a3c" stroke="#0a0f1e" stroke-width="1.15"/><circle cx="437.8" cy="129.1" r="2.8" fill="#101a3c" stroke="#0a0f1e" stroke-width="1.15"/><circle cx="443.2" cy="136.7" r="2.8" fill="#101a3c" stroke="#0a0f1e" stroke-width="1.15"/><circle cx="437.5" cy="120.5" r="2.8" fill="#101a3c" stroke="#0a0f1e" stroke-width="1.15"/><circle cx="428.4" cy="106.8" r="2.8" fill="#101a3c" stroke="#0a0f1e" stroke-width="1.15"/><circle cx="447.3" cy="131.4" r="2.8" fill="#101a3c" stroke="#0a0f1e" stroke-width="1.15"/><circle cx="458.9" cy="146.7" r="2.8" fill="#101a3c" stroke="#0a0f1e" stroke-width="1.15"/><circle cx="424.7" cy="104.5" r="2.8" fill="#101a3c" stroke="#0a0f1e" stroke-width="1.15"/><circle cx="449.8" cy="132.6" r="2.8" fill="#101a3c" stroke="#0a0f1e" stroke-width="1.15"/><circle cx="440.5" cy="125.5" r="2.8" fill="#101a3c" stroke="#0a0f1e" stroke-width="1.15"/><circle cx="432.4" cy="119.3" r="2.8" fill="#101a3c" stroke="#0a0f1e" stroke-width="1.15"/><circle cx="430.0" cy="114.3" r="2.8" fill="#101a3c" stroke="#0a0f1e" stroke-width="1.15"/><circle cx="447.7" cy="128.9" r="2.8" fill="#101a3c" stroke="#0a0f1e" stroke-width="1.15"/><circle cx="454.2" cy="134.4" r="2.8" fill="#101a3c" stroke="#0a0f1e" stroke-width="1.15"/><circle cx="439.2" cy="118.1" r="2.8" fill="#101a3c" stroke="#0a0f1e" stroke-width="1.15"/><circle cx="459.9" cy="147.0" r="2.8" fill="#101a3c" stroke="#0a0f1e" stroke-width="1.15"/><circle cx="450.1" cy="140.6" r="2.8" fill="#101a3c" stroke="#0a0f1e" stroke-width="1.15"/><circle cx="433.9" cy="111.0" r="2.8" fill="#101a3c" stroke="#0a0f1e" stroke-width="1.15"/><circle cx="436.0" cy="120.7" r="2.8" fill="#101a3c" stroke="#0a0f1e" stroke-width="1.15"/><circle cx="460.9" cy="146.6" r="2.8" fill="#101a3c" stroke="#0a0f1e" stroke-width="1.15"/><circle cx="432.0" cy="110.3" r="2.8" fill="#101a3c" stroke="#0a0f1e" stroke-width="1.15"/><circle cx="449.9" cy="137.2" r="2.8" fill="#101a3c" stroke="#0a0f1e" stroke-width="1.15"/><circle cx="441.0" cy="121.4" r="2.8" fill="#101a3c" stroke="#0a0f1e" stroke-width="1.15"/><circle cx="455.2" cy="136.6" r="2.8" fill="#101a3c" stroke="#0a0f1e" stroke-width="1.15"/><circle cx="434.4" cy="120.6" r="2.8" fill="#101a3c" stroke="#0a0f1e" stroke-width="1.15"/><circle cx="448.5" cy="131.7" r="2.8" fill="#101a3c" stroke="#0a0f1e" stroke-width="1.15"/><circle cx="441.5" cy="118.1" r="2.8" fill="#101a3c" stroke="#0a0f1e" stroke-width="1.15"/><circle cx="429.0" cy="111.0" r="2.8" fill="#101a3c" stroke="#0a0f1e" stroke-width="1.15"/><circle cx="435.1" cy="126.3" r="2.8" fill="#101a3c" stroke="#0a0f1e" stroke-width="1.15"/><circle cx="430.5" cy="108.9" r="2.8" fill="#101a3c" stroke="#0a0f1e" stroke-width="1.15"/><circle cx="457.0" cy="136.5" r="2.8" fill="#101a3c" stroke="#0a0f1e" stroke-width="1.15"/><circle cx="441.9" cy="133.9" r="2.8" fill="#101a3c" stroke="#0a0f1e" stroke-width="1.15"/><circle cx="453.3" cy="133.1" r="2.8" fill="#101a3c" stroke="#0a0f1e" stroke-width="1.15"/><circle cx="433.0" cy="107.7" r="2.8" fill="#101a3c" stroke="#0a0f1e" stroke-width="1.15"/><circle cx="438.0" cy="112.6" r="2.8" fill="#101a3c" stroke="#0a0f1e" stroke-width="1.15"/><circle cx="436.2" cy="118.9" r="2.8" fill="#101a3c" stroke="#0a0f1e" stroke-width="1.15"/><circle cx="425.0" cy="102.6" r="2.8" fill="#101a3c" stroke="#0a0f1e" stroke-width="1.15"/><circle cx="436.3" cy="116.8" r="2.8" fill="#101a3c" stroke="#0a0f1e" stroke-width="1.15"/><circle cx="429.9" cy="105.4" r="2.8" fill="#101a3c" stroke="#0a0f1e" stroke-width="1.15"/><circle cx="446.8" cy="136.9" r="2.8" fill="#101a3c" stroke="#0a0f1e" stroke-width="1.15"/><circle cx="439.0" cy="120.2" r="2.8" fill="#101a3c" stroke="#0a0f1e" stroke-width="1.15"/><circle cx="434.4" cy="98.7" r="2.8" fill="#101a3c" stroke="#0a0f1e" stroke-width="1.15"/><circle cx="437.3" cy="117.0" r="2.8" fill="#101a3c" stroke="#0a0f1e" stroke-width="1.15"/><circle cx="440.7" cy="117.5" r="2.8" fill="#101a3c" stroke="#0a0f1e" stroke-width="1.15"/><circle cx="435.9" cy="112.8" r="2.8" fill="#101a3c" stroke="#0a0f1e" stroke-width="1.15"/><circle cx="451.5" cy="131.3" r="2.8" fill="#101a3c" stroke="#0a0f1e" stroke-width="1.15"/><circle cx="443.4" cy="124.4" r="2.8" fill="#101a3c" stroke="#0a0f1e" stroke-width="1.15"/><circle cx="426.0" cy="100.1" r="2.8" fill="#101a3c" stroke="#0a0f1e" stroke-width="1.15"/><circle cx="433.2" cy="120.5" r="2.8" fill="#101a3c" stroke="#0a0f1e" stroke-width="1.15"/><circle cx="457.5" cy="138.3" r="2.8" fill="#101a3c" stroke="#0a0f1e" stroke-width="1.15"/><circle cx="431.6" cy="95.9" r="2.8" fill="#101a3c" stroke="#0a0f1e" stroke-width="1.15"/><circle cx="429.6" cy="98.1" r="2.8" fill="#101a3c" stroke="#0a0f1e" stroke-width="1.15"/><circle cx="454.9" cy="139.2" r="2.8" fill="#101a3c" stroke="#0a0f1e" stroke-width="1.15"/><circle cx="434.4" cy="114.3" r="2.8" fill="#101a3c" stroke="#0a0f1e" stroke-width="1.15"/><circle cx="431.6" cy="100.3" r="2.8" fill="#101a3c" stroke="#0a0f1e" stroke-width="1.15"/><circle cx="425.8" cy="104.5" r="2.8" fill="#101a3c" stroke="#0a0f1e" stroke-width="1.15"/><circle cx="428.2" cy="99.2" r="2.8" fill="#101a3c" stroke="#0a0f1e" stroke-width="1.15"/><circle cx="454.9" cy="132.8" r="2.8" fill="#101a3c" stroke="#0a0f1e" stroke-width="1.15"/><circle cx="455.9" cy="135.4" r="2.8" fill="#101a3c" stroke="#0a0f1e" stroke-width="1.15"/><circle cx="438.6" cy="114.3" r="2.8" fill="#101a3c" stroke="#0a0f1e" stroke-width="1.15"/><circle cx="422.9" cy="97.8" r="2.85" fill="#4ba5fa" stroke="#0a0f1e" stroke-width="1.05"/><circle cx="424.6" cy="99.4" r="2.85" fill="#4ba5fa" stroke="#0a0f1e" stroke-width="1.05"/><circle cx="419.6" cy="99.2" r="2.85" fill="#4ba5fa" stroke="#0a0f1e" stroke-width="1.05"/><circle cx="422.0" cy="90.3" r="2.85" fill="#4ba5fa" stroke="#0a0f1e" stroke-width="1.05"/><circle cx="432.4" cy="94.2" r="2.85" fill="#4ba5fa" stroke="#0a0f1e" stroke-width="1.05"/><circle cx="434.5" cy="104.7" r="2.85" fill="#4ba5fa" stroke="#0a0f1e" stroke-width="1.05"/><circle cx="434.9" cy="101.0" r="2.85" fill="#4ba5fa" stroke="#0a0f1e" stroke-width="1.05"/><circle cx="413.3" cy="97.4" r="2.85" fill="#4ba5fa" stroke="#0a0f1e" stroke-width="1.05"/><circle cx="429.9" cy="92.9" r="2.85" fill="#4ba5fa" stroke="#0a0f1e" stroke-width="1.05"/><circle cx="419.1" cy="94.3" r="2.85" fill="#4ba5fa" stroke="#0a0f1e" stroke-width="1.05"/><circle cx="420.7" cy="102.1" r="2.85" fill="#4ba5fa" stroke="#0a0f1e" stroke-width="1.05"/><circle cx="431.3" cy="105.1" r="2.85" fill="#4ba5fa" stroke="#0a0f1e" stroke-width="1.05"/><circle cx="434.6" cy="97.8" r="2.85" fill="#4ba5fa" stroke="#0a0f1e" stroke-width="1.05"/><circle cx="419.6" cy="92.3" r="2.85" fill="#4ba5fa" stroke="#0a0f1e" stroke-width="1.05"/><circle cx="437.8" cy="96.8" r="2.85" fill="#4ba5fa" stroke="#0a0f1e" stroke-width="1.05"/><circle cx="429.9" cy="97.4" r="2.85" fill="#4ba5fa" stroke="#0a0f1e" stroke-width="1.05"/><circle cx="430.8" cy="103.4" r="2.85" fill="#4ba5fa" stroke="#0a0f1e" stroke-width="1.05"/><circle cx="433.8" cy="91.8" r="2.85" fill="#4ba5fa" stroke="#0a0f1e" stroke-width="1.05"/><circle cx="427.3" cy="104.7" r="2.85" fill="#4ba5fa" stroke="#0a0f1e" stroke-width="1.05"/><circle cx="423.9" cy="90.3" r="2.85" fill="#4ba5fa" stroke="#0a0f1e" stroke-width="1.05"/><circle cx="426.7" cy="89.9" r="2.85" fill="#4ba5fa" stroke="#0a0f1e" stroke-width="1.05"/><circle cx="424.0" cy="103.7" r="2.85" fill="#4ba5fa" stroke="#0a0f1e" stroke-width="1.05"/><circle cx="427.2" cy="98.7" r="2.85" fill="#4ba5fa" stroke="#0a0f1e" stroke-width="1.05"/><circle cx="414.9" cy="99.9" r="2.85" fill="#4ba5fa" stroke="#0a0f1e" stroke-width="1.05"/><circle cx="417.4" cy="101.3" r="2.85" fill="#4ba5fa" stroke="#0a0f1e" stroke-width="1.05"/><circle cx="419.0" cy="96.2" r="2.85" fill="#4ba5fa" stroke="#0a0f1e" stroke-width="1.05"/><circle cx="432.7" cy="99.8" r="2.85" fill="#4ba5fa" stroke="#0a0f1e" stroke-width="1.05"/><circle cx="430.9" cy="90.5" r="2.85" fill="#4ba5fa" stroke="#0a0f1e" stroke-width="1.05"/><circle cx="438.1" cy="101.2" r="2.85" fill="#4ba5fa" stroke="#0a0f1e" stroke-width="1.05"/><circle cx="367.2" cy="75.0" r="2.85" fill="#2db2f5" stroke="#0a0f1e" stroke-width="1.05"/><circle cx="373.9" cy="75.0" r="2.85" fill="#2db2f5" stroke="#0a0f1e" stroke-width="1.05"/><circle cx="393.2" cy="74.1" r="2.85" fill="#4ba5fa" stroke="#0a0f1e" stroke-width="1.05"/><circle cx="450.8" cy="20.1" r="2.85" fill="#2db2f5" stroke="#0a0f1e" stroke-width="1.05"/><circle cx="461.3" cy="28.7" r="2.85" fill="#2db2f5" stroke="#0a0f1e" stroke-width="1.05"/><circle cx="478.7" cy="30.6" r="2.85" fill="#2db2f5" stroke="#0a0f1e" stroke-width="1.05"/><circle cx="420.0" cy="35.3" r="2.85" fill="#2db2f5" stroke="#0a0f1e" stroke-width="1.05"/><circle cx="451.6" cy="41.7" r="2.85" fill="#2db2f5" stroke="#0a0f1e" stroke-width="1.05"/><circle cx="458.5" cy="39.4" r="2.85" fill="#4ba5fa" stroke="#0a0f1e" stroke-width="1.05"/><circle cx="458.9" cy="43.0" r="2.85" fill="#4ba5fa" stroke="#0a0f1e" stroke-width="1.05"/><circle cx="466.2" cy="43.6" r="2.85" fill="#4ba5fa" stroke="#0a0f1e" stroke-width="1.05"/><circle cx="454.5" cy="53.1" r="2.85" fill="#2db2f5" stroke="#0a0f1e" stroke-width="1.05"/><circle cx="453.9" cy="56.8" r="2.85" fill="#2db2f5" stroke="#0a0f1e" stroke-width="1.05"/><circle cx="452.7" cy="59.5" r="2.85" fill="#2db2f5" stroke="#0a0f1e" stroke-width="1.05"/><circle cx="456.7" cy="56.8" r="2.85" fill="#2db2f5" stroke="#0a0f1e" stroke-width="1.05"/><circle cx="450.8" cy="63.2" r="2.85" fill="#2db2f5" stroke="#0a0f1e" stroke-width="1.05"/><circle cx="459.0" cy="70.5" r="2.85" fill="#4ba5fa" stroke="#0a0f1e" stroke-width="1.05"/><circle cx="391.9" cy="81.1" r="2.85" fill="#2db2f5" stroke="#0a0f1e" stroke-width="1.05"/><circle cx="420.0" cy="83.5" r="2.85" fill="#4ba5fa" stroke="#0a0f1e" stroke-width="1.05"/><circle cx="435.0" cy="83.9" r="2.85" fill="#4ba5fa" stroke="#0a0f1e" stroke-width="1.05"/><circle cx="402.0" cy="92.1" r="2.85" fill="#4ba5fa" stroke="#0a0f1e" stroke-width="1.05"/><circle cx="409.0" cy="94.5" r="2.85" fill="#4ba5fa" stroke="#0a0f1e" stroke-width="1.05"/><circle cx="424.0" cy="92.1" r="2.85" fill="#4ba5fa" stroke="#0a0f1e" stroke-width="1.05"/><circle cx="430.5" cy="91.2" r="2.85" fill="#4ba5fa" stroke="#0a0f1e" stroke-width="1.05"/><circle cx="414.9" cy="98.5" r="2.85" fill="#4ba5fa" stroke="#0a0f1e" stroke-width="1.05"/><circle cx="413.0" cy="103.1" r="2.85" fill="#4ba5fa" stroke="#0a0f1e" stroke-width="1.05"/><circle cx="466.3" cy="75.0" r="2.85" fill="#4ba5fa" stroke="#0a0f1e" stroke-width="1.05"/><circle cx="453.9" cy="80.2" r="2.85" fill="#4ba5fa" stroke="#0a0f1e" stroke-width="1.05"/><circle cx="457.5" cy="82.9" r="2.85" fill="#6491fa" stroke="#0a0f1e" stroke-width="1.05"/><circle cx="459.4" cy="85.7" r="2.85" fill="#6491fa" stroke="#0a0f1e" stroke-width="1.05"/><circle cx="439.5" cy="85.7" r="2.85" fill="#4ba5fa" stroke="#0a0f1e" stroke-width="1.05"/><circle cx="441.4" cy="90.8" r="2.85" fill="#4ba5fa" stroke="#0a0f1e" stroke-width="1.05"/><circle cx="452.0" cy="93.4" r="2.85" fill="#6491fa" stroke="#0a0f1e" stroke-width="1.05"/><circle cx="460.8" cy="95.2" r="2.85" fill="#6491fa" stroke="#0a0f1e" stroke-width="1.05"/><circle cx="450.2" cy="106.2" r="2.85" fill="#6491fa" stroke="#0a0f1e" stroke-width="1.05"/><circle cx="441.0" cy="109.5" r="2.85" fill="#6491fa" stroke="#0a0f1e" stroke-width="1.05"/><circle cx="437.3" cy="101.3" r="2.85" fill="#6491fa" stroke="#0a0f1e" stroke-width="1.05"/><circle cx="444.7" cy="116.9" r="2.85" fill="#6491fa" stroke="#0a0f1e" stroke-width="1.05"/><circle cx="444.0" cy="118.4" r="2.85" fill="#6491fa" stroke="#0a0f1e" stroke-width="1.05"/><circle cx="428.4" cy="124.0" r="2.85" fill="#6491fa" stroke="#0a0f1e" stroke-width="1.05"/><circle cx="456.9" cy="128.5" r="2.85" fill="#6491fa" stroke="#0a0f1e" stroke-width="1.05"/><circle cx="458.0" cy="127.3" r="2.85" fill="#6491fa" stroke="#0a0f1e" stroke-width="1.05"/><circle cx="467.5" cy="143.9" r="2.85" fill="#6491fa" stroke="#0a0f1e" stroke-width="1.05"/><circle cx="458.3" cy="153.0" r="2.85" fill="#6491fa" stroke="#0a0f1e" stroke-width="1.05"/><circle cx="463.9" cy="150.3" r="2.85" fill="#6491fa" stroke="#0a0f1e" stroke-width="1.05"/><circle cx="466.6" cy="153.9" r="2.85" fill="#6491fa" stroke="#0a0f1e" stroke-width="1.05"/><circle cx="473.9" cy="154.9" r="2.85" fill="#6491fa" stroke="#0a0f1e" stroke-width="1.05"/><circle cx="476.7" cy="158.5" r="2.85" fill="#8073fa" stroke="#0a0f1e" stroke-width="1.05"/><circle cx="473.9" cy="161.3" r="2.85" fill="#8073fa" stroke="#0a0f1e" stroke-width="1.05"/><circle cx="479.4" cy="157.6" r="2.85" fill="#8073fa" stroke="#0a0f1e" stroke-width="1.05"/><circle cx="484.0" cy="160.4" r="2.85" fill="#8073fa" stroke="#0a0f1e" stroke-width="1.05"/><circle cx="492.3" cy="169.5" r="2.85" fill="#8073fa" stroke="#0a0f1e" stroke-width="1.05"/><circle cx="496.9" cy="172.3" r="2.85" fill="#8073fa" stroke="#0a0f1e" stroke-width="1.05"/><circle cx="516.3" cy="158.3" r="2.85" fill="#a550fa" stroke="#0a0f1e" stroke-width="1.05"/><circle cx="529.5" cy="169.8" r="2.85" fill="#8073fa" stroke="#0a0f1e" stroke-width="1.05"/><circle cx="497.4" cy="172.0" r="2.85" fill="#8073fa" stroke="#0a0f1e" stroke-width="1.05"/><circle cx="502.0" cy="173.5" r="2.85" fill="#8073fa" stroke="#0a0f1e" stroke-width="1.05"/><circle cx="498.3" cy="177.5" r="2.85" fill="#8073fa" stroke="#0a0f1e" stroke-width="1.05"/><circle cx="505.7" cy="177.5" r="2.85" fill="#8073fa" stroke="#0a0f1e" stroke-width="1.05"/><circle cx="507.2" cy="183.0" r="2.85" fill="#8073fa" stroke="#0a0f1e" stroke-width="1.05"/><circle cx="514.0" cy="187.6" r="2.85" fill="#8073fa" stroke="#0a0f1e" stroke-width="1.05"/><circle cx="514.0" cy="193.1" r="2.85" fill="#8073fa" stroke="#0a0f1e" stroke-width="1.05"/><circle cx="514.9" cy="195.9" r="2.85" fill="#8073fa" stroke="#0a0f1e" stroke-width="1.05"/><circle cx="525.9" cy="194.0" r="2.85" fill="#a550fa" stroke="#0a0f1e" stroke-width="1.05"/><circle cx="524.0" cy="196.8" r="2.85" fill="#a550fa" stroke="#0a0f1e" stroke-width="1.05"/><circle cx="527.7" cy="198.6" r="2.85" fill="#a550fa" stroke="#0a0f1e" stroke-width="1.05"/><circle cx="519.4" cy="200.5" r="2.85" fill="#a550fa" stroke="#0a0f1e" stroke-width="1.05"/><circle cx="513.8" cy="200.1" r="2.85" fill="#8073fa" stroke="#0a0f1e" stroke-width="1.05"/><circle cx="519.3" cy="209.3" r="2.85" fill="#a550fa" stroke="#0a0f1e" stroke-width="1.05"/><circle cx="535.8" cy="210.6" r="2.85" fill="#a550fa" stroke="#0a0f1e" stroke-width="1.05"/><circle cx="528.4" cy="222.7" r="2.85" fill="#a550fa" stroke="#0a0f1e" stroke-width="1.05"/><circle cx="542.2" cy="225.8" r="2.85" fill="#a550fa" stroke="#0a0f1e" stroke-width="1.05"/><circle cx="558.3" cy="244.7" r="2.85" fill="#dc20f5" stroke="#0a0f1e" stroke-width="1.05"/><circle cx="560.6" cy="262.1" r="2.85" fill="#dc20f5" stroke="#0a0f1e" stroke-width="1.05"/><circle cx="506.9" cy="134.7" r="2.85" fill="#6491fa" stroke="#0a0f1e" stroke-width="1.05"/><circle cx="454.1" cy="78.9" r="2.85" fill="#4ba5fa" stroke="#0a0f1e" stroke-width="1.05"/><circle cx="579.7" cy="196.0" r="2.85" fill="#a550fa" stroke="#0a0f1e" stroke-width="1.05"/></g>
<rect x="53.8" y="2.0" width="276.4" height="278.3" fill="none" stroke="#1a1a1a" stroke-width="1.3"/>
<rect x="330.2" y="2.0" width="276.3" height="278.3" fill="none" stroke="#1a1a1a" stroke-width="1.3"/>
<rect x="613.8" y="2.0" width="17.40000000000009" height="278.2" fill="url(#cb)" stroke="#1a1a1a" stroke-width="1.3"/>
<path d="M49.5,17.88H53.8M325.9,17.88H330.2M49.5,49.70H53.8M325.9,49.70H330.2M49.5,81.52H53.8M325.9,81.52H330.2M49.5,113.34H53.8M325.9,113.34H330.2M49.5,145.16H53.8M325.9,145.16H330.2M49.5,176.98H53.8M325.9,176.98H330.2M49.5,208.80H53.8M325.9,208.80H330.2M49.5,240.62H53.8M325.9,240.62H330.2M49.5,272.44H53.8M325.9,272.44H330.2M92.35,280.3V284.6M147.70,280.3V284.6M203.05,280.3V284.6M258.40,280.3V284.6M313.75,280.3V284.6M371.60,280.3V284.6M440.70,280.3V284.6M509.80,280.3V284.6M578.90,280.3V284.6M631.2,280.40H635.5M631.2,224.11H635.5M631.2,149.69H635.5M631.2,93.40H635.5M631.2,37.11H635.5M631.2,191.18H633.7M631.2,167.81H633.7M631.2,134.89H633.7M631.2,122.37H633.7M631.2,111.52H633.7M631.2,101.96H633.7M631.2,4.18H633.7" stroke="#1a1a1a" stroke-width="1.1" fill="none"/>
<g fill="#111" stroke="#111" stroke-width="0.2"><text transform="translate(44.20,23.08) scale(1.15,1)" text-anchor="end" font-size="14.5">−2</text><text transform="translate(44.20,54.90) scale(1.15,1)" text-anchor="end" font-size="14.5">0</text><text transform="translate(44.20,86.72) scale(1.15,1)" text-anchor="end" font-size="14.5">2</text><text transform="translate(44.20,118.54) scale(1.15,1)" text-anchor="end" font-size="14.5">4</text><text transform="translate(44.20,150.36) scale(1.15,1)" text-anchor="end" font-size="14.5">6</text><text transform="translate(44.20,182.18) scale(1.15,1)" text-anchor="end" font-size="14.5">8</text><text transform="translate(44.20,214.00) scale(1.15,1)" text-anchor="end" font-size="14.5">10</text><text transform="translate(44.20,245.82) scale(1.15,1)" text-anchor="end" font-size="14.5">12</text><text transform="translate(44.20,277.64) scale(1.15,1)" text-anchor="end" font-size="14.5">14</text><text transform="translate(92.35,300.70) scale(1.15,1)" text-anchor="middle" font-size="14.5">0</text><text transform="translate(147.70,300.70) scale(1.15,1)" text-anchor="middle" font-size="14.5">1</text><text transform="translate(203.05,300.70) scale(1.15,1)" text-anchor="middle" font-size="14.5">2</text><text transform="translate(258.40,300.70) scale(1.15,1)" text-anchor="middle" font-size="14.5">3</text><text transform="translate(313.75,300.70) scale(1.15,1)" text-anchor="middle" font-size="14.5">4</text><text transform="translate(371.60,300.70) scale(1.15,1)" text-anchor="middle" font-size="14.5">0.0</text><text transform="translate(440.70,300.70) scale(1.15,1)" text-anchor="middle" font-size="14.5">0.5</text><text transform="translate(509.80,300.70) scale(1.15,1)" text-anchor="middle" font-size="14.5">1.0</text><text transform="translate(578.90,300.70) scale(1.15,1)" text-anchor="middle" font-size="14.5">1.5</text><text transform="translate(640.50,285.60) scale(1.15,1)" text-anchor="start" font-size="14.5">0.1</text><text transform="translate(640.50,229.31) scale(1.15,1)" text-anchor="start" font-size="14.5">0.2</text><text transform="translate(640.50,154.89) scale(1.15,1)" text-anchor="start" font-size="14.5">0.5</text><text transform="translate(640.50,98.60) scale(1.15,1)" text-anchor="start" font-size="14.5">1.0</text><text transform="translate(640.50,42.31) scale(1.15,1)" text-anchor="start" font-size="14.5">2.0</text><text transform="translate(192.00,322.10) scale(1.15,1)" text-anchor="middle" font-size="16.5">BP−RP [mag]</text><text transform="translate(468.35,322.10) scale(1.15,1)" text-anchor="middle" font-size="16.5">G−RP [mag]</text><text transform="translate(17.00,141.00) rotate(-90) scale(1.15,1)" text-anchor="middle" font-size="16.5">Absolute G [mag]</text><g transform="translate(680.6,215.5) rotate(-90)"><text transform="scale(1.13,1)" font-size="16.5">Stellar Mass [M</text><circle cx="136.4" cy="-1.4" r="2.65" fill="none" stroke="#111" stroke-width="1.0"/><circle cx="136.4" cy="-1.4" r="0.8" fill="#111"/><text x="144.5" font-size="16.5">]</text></g></g>
</svg></body></html>
